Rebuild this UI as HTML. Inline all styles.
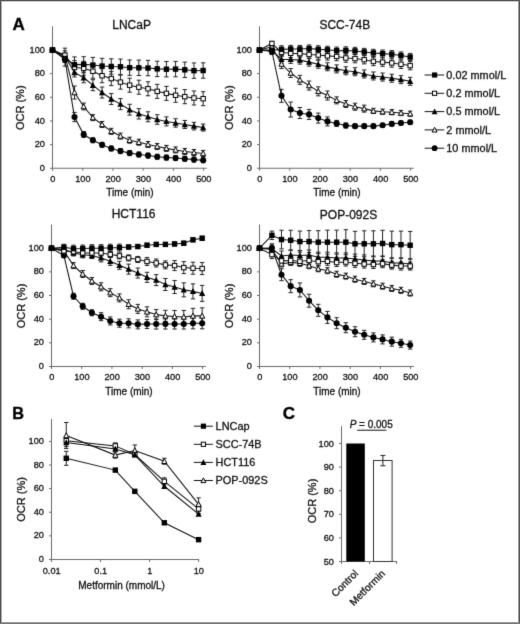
<!DOCTYPE html>
<html><head><meta charset="utf-8"><title>OCR figure</title>
<style>html,body{margin:0;padding:0;background:#fff;}body{width:520px;height:624px;overflow:hidden;}svg{display:block;-webkit-font-smoothing:antialiased;will-change:transform;font-family:"Liberation Sans", sans-serif;}</style></head>
<body>
<svg width="520" height="624" viewBox="0 0 520 624" font-family='"Liberation Sans", sans-serif' fill="#111" stroke-width="0">
<defs><filter id="bl" x="0" y="0" width="520" height="624" filterUnits="userSpaceOnUse" color-interpolation-filters="sRGB"><feConvolveMatrix order="3" kernelMatrix="0.01000 0.08000 0.01000 0.08000 0.64000 0.08000 0.01000 0.08000 0.01000" edgeMode="duplicate" preserveAlpha="false"/></filter></defs><rect width="520" height="624" fill="#fff"/>
<g filter="url(#bl)"><path d="M52.5 26.29V170.75" stroke="#6a6a6a" stroke-width="1"/>
<path d="M50 168.25H206.8" stroke="#6a6a6a" stroke-width="1"/>
<path d="M50 144.59H52.5M50 120.93H52.5M50 97.27H52.5M50 73.61H52.5M50 49.95H52.5M82.72 168.25V170.75M112.94 168.25V170.75M143.16 168.25V170.75M173.38 168.25V170.75M203.6 168.25V170.75" stroke="#6a6a6a" stroke-width="1"/>
<text x="44.9" y="170.85" font-size="9.2" text-anchor="end" font-weight="normal" stroke="#111" stroke-width="0.3">0</text>
<text x="44.9" y="147.19" font-size="9.2" text-anchor="end" font-weight="normal" stroke="#111" stroke-width="0.3">20</text>
<text x="44.9" y="123.53" font-size="9.2" text-anchor="end" font-weight="normal" stroke="#111" stroke-width="0.3">40</text>
<text x="44.9" y="99.87" font-size="9.2" text-anchor="end" font-weight="normal" stroke="#111" stroke-width="0.3">60</text>
<text x="44.9" y="76.21" font-size="9.2" text-anchor="end" font-weight="normal" stroke="#111" stroke-width="0.3">80</text>
<text x="44.9" y="52.55" font-size="9.2" text-anchor="end" font-weight="normal" stroke="#111" stroke-width="0.3">100</text>
<text x="52.7" y="181.95" font-size="9.2" text-anchor="middle" font-weight="normal" stroke="#111" stroke-width="0.3">0</text>
<text x="82.92" y="181.95" font-size="9.2" text-anchor="middle" font-weight="normal" stroke="#111" stroke-width="0.3">100</text>
<text x="113.14" y="181.95" font-size="9.2" text-anchor="middle" font-weight="normal" stroke="#111" stroke-width="0.3">200</text>
<text x="143.36" y="181.95" font-size="9.2" text-anchor="middle" font-weight="normal" stroke="#111" stroke-width="0.3">300</text>
<text x="173.58" y="181.95" font-size="9.2" text-anchor="middle" font-weight="normal" stroke="#111" stroke-width="0.3">400</text>
<text x="203.8" y="181.95" font-size="9.2" text-anchor="middle" font-weight="normal" stroke="#111" stroke-width="0.3">500</text>
<text x="130" y="196.25" font-size="10" text-anchor="middle" font-weight="normal" stroke="#111" stroke-width="0.3">Time (min)</text>
<text x="0" y="0" font-size="11" text-anchor="middle" font-weight="normal" stroke="#111" stroke-width="0.3" transform="translate(24.2 107.75) rotate(-90)">OCR (%)</text>
<text x="131.6" y="29.3" font-size="12" text-anchor="middle" font-weight="normal" stroke="#111" stroke-width="0.3">LNCaP</text>
<path d="M64.9 56.41V62.41M62.7 56.41H67.1M62.7 62.41H67.1" stroke="#222" stroke-width="1" fill="none"/><path d="M74.5 112.43V121.63M72.3 112.43H76.7M72.3 121.63H76.7" stroke="#222" stroke-width="1" fill="none"/><path d="M83.69 131.53V137.53M81.49 131.53H85.89M81.49 137.53H85.89" stroke="#222" stroke-width="1" fill="none"/><path d="M92.88 137.71V142.71M90.68 137.71H95.08M90.68 142.71H95.08" stroke="#222" stroke-width="1" fill="none"/><path d="M102.07 142.33V147.33M99.87 142.33H104.27M99.87 147.33H104.27" stroke="#222" stroke-width="1" fill="none"/><path d="M111.26 145.99V150.99M109.06 145.99H113.46M109.06 150.99H113.46" stroke="#222" stroke-width="1" fill="none"/><path d="M120.45 148.6V153.6M118.25 148.6H122.65M118.25 153.6H122.65" stroke="#222" stroke-width="1" fill="none"/><path d="M129.64 150.61V155.61M127.44 150.61H131.84M127.44 155.61H131.84" stroke="#222" stroke-width="1" fill="none"/><path d="M138.83 152.03V157.03M136.63 152.03H141.03M136.63 157.03H141.03" stroke="#222" stroke-width="1" fill="none"/><path d="M148.02 153.09V158.09M145.82 153.09H150.22M145.82 158.09H150.22" stroke="#222" stroke-width="1" fill="none"/><path d="M157.21 154.27V159.27M155.01 154.27H159.41M155.01 159.27H159.41" stroke="#222" stroke-width="1" fill="none"/><path d="M166.4 155.1V160.1M164.2 155.1H168.6M164.2 160.1H168.6" stroke="#222" stroke-width="1" fill="none"/><path d="M175.59 155.58V160.58M173.39 155.58H177.79M173.39 160.58H177.79" stroke="#222" stroke-width="1" fill="none"/><path d="M184.78 156.29V161.29M182.58 156.29H186.98M182.58 161.29H186.98" stroke="#222" stroke-width="1" fill="none"/><path d="M193.97 157.11V162.11M191.77 157.11H196.17M191.77 162.11H196.17" stroke="#222" stroke-width="1" fill="none"/><path d="M203.16 157.71V162.71M200.96 157.71H205.36M200.96 162.71H205.36" stroke="#222" stroke-width="1" fill="none"/><path d="M64.9 53.36V58.36M62.7 53.36H67.1M62.7 58.36H67.1" stroke="#222" stroke-width="1" fill="none"/><path d="M74.5 86.04V99.04M72.3 86.04H76.7M72.3 99.04H76.7" stroke="#222" stroke-width="1" fill="none"/><path d="M83.69 103.1V109.9M81.49 103.1H85.89M81.49 109.9H85.89" stroke="#222" stroke-width="1" fill="none"/><path d="M92.88 114.62V120.62M90.68 114.62H95.08M90.68 120.62H95.08" stroke="#222" stroke-width="1" fill="none"/><path d="M102.07 121.48V127.48M99.87 121.48H104.27M99.87 127.48H104.27" stroke="#222" stroke-width="1" fill="none"/><path d="M111.26 128.34V134.34M109.06 128.34H113.46M109.06 134.34H113.46" stroke="#222" stroke-width="1" fill="none"/><path d="M120.45 133.07V139.07M118.25 133.07H122.65M118.25 139.07H122.65" stroke="#222" stroke-width="1" fill="none"/><path d="M129.64 137.21V143.21M127.44 137.21H131.84M127.44 143.21H131.84" stroke="#222" stroke-width="1" fill="none"/><path d="M138.83 139.22V145.22M136.63 139.22H141.03M136.63 145.22H141.03" stroke="#222" stroke-width="1" fill="none"/><path d="M148.02 141.47V147.47M145.82 141.47H150.22M145.82 147.47H150.22" stroke="#222" stroke-width="1" fill="none"/><path d="M157.21 143.48V149.48M155.01 143.48H159.41M155.01 149.48H159.41" stroke="#222" stroke-width="1" fill="none"/><path d="M166.4 145.38V151.38M164.2 145.38H168.6M164.2 151.38H168.6" stroke="#222" stroke-width="1" fill="none"/><path d="M175.59 146.91V152.91M173.39 146.91H177.79M173.39 152.91H177.79" stroke="#222" stroke-width="1" fill="none"/><path d="M184.78 148.45V154.45M182.58 148.45H186.98M182.58 154.45H186.98" stroke="#222" stroke-width="1" fill="none"/><path d="M193.97 149.52V155.52M191.77 149.52H196.17M191.77 155.52H196.17" stroke="#222" stroke-width="1" fill="none"/><path d="M203.16 150.46V156.46M200.96 150.46H205.36M200.96 156.46H205.36" stroke="#222" stroke-width="1" fill="none"/><path d="M64.9 53.46V59.46M62.7 53.46H67.1M62.7 59.46H67.1" stroke="#222" stroke-width="1" fill="none"/><path d="M74.5 67.93V76.93M72.3 67.93H76.7M72.3 76.93H76.7" stroke="#222" stroke-width="1" fill="none"/><path d="M83.69 72.75V82.75M81.49 72.75H85.89M81.49 82.75H85.89" stroke="#222" stroke-width="1" fill="none"/><path d="M92.88 79.7V90.7M90.68 79.7H95.08M90.68 90.7H95.08" stroke="#222" stroke-width="1" fill="none"/><path d="M102.07 87.04V98.04M99.87 87.04H104.27M99.87 98.04H104.27" stroke="#222" stroke-width="1" fill="none"/><path d="M111.26 93.54V104.54M109.06 93.54H113.46M109.06 104.54H113.46" stroke="#222" stroke-width="1" fill="none"/><path d="M120.45 98.63V109.63M118.25 98.63H122.65M118.25 109.63H122.65" stroke="#222" stroke-width="1" fill="none"/><path d="M129.64 104.29V115.09M127.44 104.29H131.84M127.44 115.09H131.84" stroke="#222" stroke-width="1" fill="none"/><path d="M138.83 108.63V119.03M136.63 108.63H141.03M136.63 119.03H141.03" stroke="#222" stroke-width="1" fill="none"/><path d="M148.02 111.79V121.79M145.82 111.79H150.22M145.82 121.79H150.22" stroke="#222" stroke-width="1" fill="none"/><path d="M157.21 114.71V124.31M155.01 114.71H159.41M155.01 124.31H159.41" stroke="#222" stroke-width="1" fill="none"/><path d="M166.4 116.9V125.9M164.2 116.9H168.6M164.2 125.9H168.6" stroke="#222" stroke-width="1" fill="none"/><path d="M175.59 118.74V127.14M173.39 118.74H177.79M173.39 127.14H177.79" stroke="#222" stroke-width="1" fill="none"/><path d="M184.78 120.48V128.48M182.58 120.48H186.98M182.58 128.48H186.98" stroke="#222" stroke-width="1" fill="none"/><path d="M193.97 122.34V129.94M191.77 122.34H196.17M191.77 129.94H196.17" stroke="#222" stroke-width="1" fill="none"/><path d="M203.16 124.05V131.05M200.96 124.05H205.36M200.96 131.05H205.36" stroke="#222" stroke-width="1" fill="none"/><path d="M64.9 48.16V62.16M62.7 48.16H67.1M62.7 62.16H67.1" stroke="#222" stroke-width="1" fill="none"/><path d="M74.5 60.46V74.46M72.3 60.46H76.7M72.3 74.46H76.7" stroke="#222" stroke-width="1" fill="none"/><path d="M83.69 61.29V75.29M81.49 61.29H85.89M81.49 75.29H85.89" stroke="#222" stroke-width="1" fill="none"/><path d="M92.88 64.24V78.24M90.68 64.24H95.08M90.68 78.24H95.08" stroke="#222" stroke-width="1" fill="none"/><path d="M102.07 68.74V82.74M99.87 68.74H104.27M99.87 82.74H104.27" stroke="#222" stroke-width="1" fill="none"/><path d="M111.26 71.58V85.58M109.06 71.58H113.46M109.06 85.58H113.46" stroke="#222" stroke-width="1" fill="none"/><path d="M120.45 75.13V89.13M118.25 75.13H122.65M118.25 89.13H122.65" stroke="#222" stroke-width="1" fill="none"/><path d="M129.64 78.2V92.2M127.44 78.2H131.84M127.44 92.2H131.84" stroke="#222" stroke-width="1" fill="none"/><path d="M138.83 80.21V94.21M136.63 80.21H141.03M136.63 94.21H141.03" stroke="#222" stroke-width="1" fill="none"/><path d="M148.02 81.75V95.75M145.82 81.75H150.22M145.82 95.75H150.22" stroke="#222" stroke-width="1" fill="none"/><path d="M157.21 84.35V98.35M155.01 84.35H159.41M155.01 98.35H159.41" stroke="#222" stroke-width="1" fill="none"/><path d="M166.4 86.37V100.37M164.2 86.37H168.6M164.2 100.37H168.6" stroke="#222" stroke-width="1" fill="none"/><path d="M175.59 88.26V102.26M173.39 88.26H177.79M173.39 102.26H177.79" stroke="#222" stroke-width="1" fill="none"/><path d="M184.78 89.68V103.68M182.58 89.68H186.98M182.58 103.68H186.98" stroke="#222" stroke-width="1" fill="none"/><path d="M193.97 90.98V104.98M191.77 90.98H196.17M191.77 104.98H196.17" stroke="#222" stroke-width="1" fill="none"/><path d="M203.16 91.69V105.69M200.96 91.69H205.36M200.96 105.69H205.36" stroke="#222" stroke-width="1" fill="none"/><path d="M64.9 50.77V66.17M62.7 50.77H67.1M62.7 66.17H67.1" stroke="#222" stroke-width="1" fill="none"/><path d="M74.5 56.92V72.32M72.3 56.92H76.7M72.3 72.32H76.7" stroke="#222" stroke-width="1" fill="none"/><path d="M83.69 56.68V72.08M81.49 56.68H85.89M81.49 72.08H85.89" stroke="#222" stroke-width="1" fill="none"/><path d="M92.88 57.39V72.79M90.68 57.39H95.08M90.68 72.79H95.08" stroke="#222" stroke-width="1" fill="none"/><path d="M102.07 58.34V73.74M99.87 58.34H104.27M99.87 73.74H104.27" stroke="#222" stroke-width="1" fill="none"/><path d="M111.26 58.81V74.21M109.06 58.81H113.46M109.06 74.21H113.46" stroke="#222" stroke-width="1" fill="none"/><path d="M120.45 59.05V74.45M118.25 59.05H122.65M118.25 74.45H122.65" stroke="#222" stroke-width="1" fill="none"/><path d="M129.64 59.99V75.39M127.44 59.99H131.84M127.44 75.39H131.84" stroke="#222" stroke-width="1" fill="none"/><path d="M138.83 60.11V75.51M136.63 60.11H141.03M136.63 75.51H141.03" stroke="#222" stroke-width="1" fill="none"/><path d="M148.02 60.35V75.75M145.82 60.35H150.22M145.82 75.75H150.22" stroke="#222" stroke-width="1" fill="none"/><path d="M157.21 61.18V76.58M155.01 61.18H159.41M155.01 76.58H159.41" stroke="#222" stroke-width="1" fill="none"/><path d="M166.4 61.53V76.93M164.2 61.53H168.6M164.2 76.93H168.6" stroke="#222" stroke-width="1" fill="none"/><path d="M175.59 61.41V76.81M173.39 61.41H177.79M173.39 76.81H177.79" stroke="#222" stroke-width="1" fill="none"/><path d="M184.78 62.12V77.52M182.58 62.12H186.98M182.58 77.52H186.98" stroke="#222" stroke-width="1" fill="none"/><path d="M193.97 62.95V78.35M191.77 62.95H196.17M191.77 78.35H196.17" stroke="#222" stroke-width="1" fill="none"/><path d="M203.16 62.83V78.23M200.96 62.83H205.36M200.96 78.23H205.36" stroke="#222" stroke-width="1" fill="none"/>
<path d="M52.5 49.95L64.9 59.41L74.5 117.03L83.69 134.53L92.88 140.21L102.07 144.83L111.26 148.49L120.45 151.1L129.64 153.11L138.83 154.53L148.02 155.59L157.21 156.77L166.4 157.6L175.59 158.08L184.78 158.79L193.97 159.61L203.16 160.21" stroke="#111" stroke-width="1.05" fill="none"/><path d="M52.5 49.95L64.9 55.86L74.5 92.54L83.69 106.5L92.88 117.62L102.07 124.48L111.26 131.34L120.45 136.07L129.64 140.21L138.83 142.22L148.02 144.47L157.21 146.48L166.4 148.38L175.59 149.91L184.78 151.45L193.97 152.52L203.16 153.46" stroke="#111" stroke-width="1.05" fill="none"/><path d="M52.5 49.95L64.9 56.46L74.5 72.43L83.69 77.75L92.88 85.2L102.07 92.54L111.26 99.04L120.45 104.13L129.64 109.69L138.83 113.83L148.02 116.79L157.21 119.51L166.4 121.4L175.59 122.94L184.78 124.48L193.97 126.14L203.16 127.55" stroke="#111" stroke-width="1.05" fill="none"/><path d="M52.5 49.95L64.9 55.16L74.5 67.46L83.69 68.29L92.88 71.24L102.07 75.74L111.26 78.58L120.45 82.13L129.64 85.2L138.83 87.21L148.02 88.75L157.21 91.35L166.4 93.37L175.59 95.26L184.78 96.68L193.97 97.98L203.16 98.69" stroke="#111" stroke-width="1.05" fill="none"/><path d="M52.5 49.95L64.9 58.47L74.5 64.62L83.69 64.38L92.88 65.09L102.07 66.04L111.26 66.51L120.45 66.75L129.64 67.69L138.83 67.81L148.02 68.05L157.21 68.88L166.4 69.23L175.59 69.11L184.78 69.82L193.97 70.65L203.16 70.53" stroke="#111" stroke-width="1.05" fill="none"/>
<circle cx="52.5" cy="49.95" r="3.05" fill="#000"/><circle cx="64.9" cy="59.41" r="3.05" fill="#000"/><circle cx="74.5" cy="117.03" r="3.05" fill="#000"/><circle cx="83.69" cy="134.53" r="3.05" fill="#000"/><circle cx="92.88" cy="140.21" r="3.05" fill="#000"/><circle cx="102.07" cy="144.83" r="3.05" fill="#000"/><circle cx="111.26" cy="148.49" r="3.05" fill="#000"/><circle cx="120.45" cy="151.1" r="3.05" fill="#000"/><circle cx="129.64" cy="153.11" r="3.05" fill="#000"/><circle cx="138.83" cy="154.53" r="3.05" fill="#000"/><circle cx="148.02" cy="155.59" r="3.05" fill="#000"/><circle cx="157.21" cy="156.77" r="3.05" fill="#000"/><circle cx="166.4" cy="157.6" r="3.05" fill="#000"/><circle cx="175.59" cy="158.08" r="3.05" fill="#000"/><circle cx="184.78" cy="158.79" r="3.05" fill="#000"/><circle cx="193.97" cy="159.61" r="3.05" fill="#000"/><circle cx="203.16" cy="160.21" r="3.05" fill="#000"/><path d="M52.5 47.2L55.1 52.2L49.9 52.2Z" fill="#fff" stroke="#000" stroke-width="1"/><path d="M64.9 53.11L67.5 58.11L62.3 58.11Z" fill="#fff" stroke="#000" stroke-width="1"/><path d="M74.5 89.79L77.1 94.79L71.9 94.79Z" fill="#fff" stroke="#000" stroke-width="1"/><path d="M83.69 103.75L86.29 108.75L81.09 108.75Z" fill="#fff" stroke="#000" stroke-width="1"/><path d="M92.88 114.87L95.48 119.87L90.28 119.87Z" fill="#fff" stroke="#000" stroke-width="1"/><path d="M102.07 121.73L104.67 126.73L99.47 126.73Z" fill="#fff" stroke="#000" stroke-width="1"/><path d="M111.26 128.59L113.86 133.59L108.66 133.59Z" fill="#fff" stroke="#000" stroke-width="1"/><path d="M120.45 133.32L123.05 138.32L117.85 138.32Z" fill="#fff" stroke="#000" stroke-width="1"/><path d="M129.64 137.46L132.24 142.46L127.04 142.46Z" fill="#fff" stroke="#000" stroke-width="1"/><path d="M138.83 139.47L141.43 144.47L136.23 144.47Z" fill="#fff" stroke="#000" stroke-width="1"/><path d="M148.02 141.72L150.62 146.72L145.42 146.72Z" fill="#fff" stroke="#000" stroke-width="1"/><path d="M157.21 143.73L159.81 148.73L154.61 148.73Z" fill="#fff" stroke="#000" stroke-width="1"/><path d="M166.4 145.63L169 150.63L163.8 150.63Z" fill="#fff" stroke="#000" stroke-width="1"/><path d="M175.59 147.16L178.19 152.16L172.99 152.16Z" fill="#fff" stroke="#000" stroke-width="1"/><path d="M184.78 148.7L187.38 153.7L182.18 153.7Z" fill="#fff" stroke="#000" stroke-width="1"/><path d="M193.97 149.77L196.57 154.77L191.37 154.77Z" fill="#fff" stroke="#000" stroke-width="1"/><path d="M203.16 150.71L205.76 155.71L200.56 155.71Z" fill="#fff" stroke="#000" stroke-width="1"/><path d="M52.5 46.65L55.6 52.65L49.4 52.65Z" fill="#000"/><path d="M64.9 53.16L68 59.16L61.8 59.16Z" fill="#000"/><path d="M74.5 69.13L77.6 75.13L71.4 75.13Z" fill="#000"/><path d="M83.69 74.45L86.79 80.45L80.59 80.45Z" fill="#000"/><path d="M92.88 81.9L95.98 87.9L89.78 87.9Z" fill="#000"/><path d="M102.07 89.24L105.17 95.24L98.97 95.24Z" fill="#000"/><path d="M111.26 95.74L114.36 101.74L108.16 101.74Z" fill="#000"/><path d="M120.45 100.83L123.55 106.83L117.35 106.83Z" fill="#000"/><path d="M129.64 106.39L132.74 112.39L126.54 112.39Z" fill="#000"/><path d="M138.83 110.53L141.93 116.53L135.73 116.53Z" fill="#000"/><path d="M148.02 113.49L151.12 119.49L144.92 119.49Z" fill="#000"/><path d="M157.21 116.21L160.31 122.21L154.11 122.21Z" fill="#000"/><path d="M166.4 118.1L169.5 124.1L163.3 124.1Z" fill="#000"/><path d="M175.59 119.64L178.69 125.64L172.49 125.64Z" fill="#000"/><path d="M184.78 121.18L187.88 127.18L181.68 127.18Z" fill="#000"/><path d="M193.97 122.84L197.07 128.84L190.87 128.84Z" fill="#000"/><path d="M203.16 124.25L206.26 130.25L200.06 130.25Z" fill="#000"/><rect x="50.3" y="47.75" width="4.4" height="4.4" fill="#fff" stroke="#000" stroke-width="1"/><rect x="62.7" y="52.96" width="4.4" height="4.4" fill="#fff" stroke="#000" stroke-width="1"/><rect x="72.3" y="65.26" width="4.4" height="4.4" fill="#fff" stroke="#000" stroke-width="1"/><rect x="81.49" y="66.09" width="4.4" height="4.4" fill="#fff" stroke="#000" stroke-width="1"/><rect x="90.68" y="69.04" width="4.4" height="4.4" fill="#fff" stroke="#000" stroke-width="1"/><rect x="99.87" y="73.54" width="4.4" height="4.4" fill="#fff" stroke="#000" stroke-width="1"/><rect x="109.06" y="76.38" width="4.4" height="4.4" fill="#fff" stroke="#000" stroke-width="1"/><rect x="118.25" y="79.93" width="4.4" height="4.4" fill="#fff" stroke="#000" stroke-width="1"/><rect x="127.44" y="83" width="4.4" height="4.4" fill="#fff" stroke="#000" stroke-width="1"/><rect x="136.63" y="85.01" width="4.4" height="4.4" fill="#fff" stroke="#000" stroke-width="1"/><rect x="145.82" y="86.55" width="4.4" height="4.4" fill="#fff" stroke="#000" stroke-width="1"/><rect x="155.01" y="89.15" width="4.4" height="4.4" fill="#fff" stroke="#000" stroke-width="1"/><rect x="164.2" y="91.17" width="4.4" height="4.4" fill="#fff" stroke="#000" stroke-width="1"/><rect x="173.39" y="93.06" width="4.4" height="4.4" fill="#fff" stroke="#000" stroke-width="1"/><rect x="182.58" y="94.48" width="4.4" height="4.4" fill="#fff" stroke="#000" stroke-width="1"/><rect x="191.77" y="95.78" width="4.4" height="4.4" fill="#fff" stroke="#000" stroke-width="1"/><rect x="200.96" y="96.49" width="4.4" height="4.4" fill="#fff" stroke="#000" stroke-width="1"/><rect x="49.8" y="47.25" width="5.4" height="5.4" fill="#000"/><rect x="62.2" y="55.77" width="5.4" height="5.4" fill="#000"/><rect x="71.8" y="61.92" width="5.4" height="5.4" fill="#000"/><rect x="80.99" y="61.68" width="5.4" height="5.4" fill="#000"/><rect x="90.18" y="62.39" width="5.4" height="5.4" fill="#000"/><rect x="99.37" y="63.34" width="5.4" height="5.4" fill="#000"/><rect x="108.56" y="63.81" width="5.4" height="5.4" fill="#000"/><rect x="117.75" y="64.05" width="5.4" height="5.4" fill="#000"/><rect x="126.94" y="64.99" width="5.4" height="5.4" fill="#000"/><rect x="136.13" y="65.11" width="5.4" height="5.4" fill="#000"/><rect x="145.32" y="65.35" width="5.4" height="5.4" fill="#000"/><rect x="154.51" y="66.18" width="5.4" height="5.4" fill="#000"/><rect x="163.7" y="66.53" width="5.4" height="5.4" fill="#000"/><rect x="172.89" y="66.41" width="5.4" height="5.4" fill="#000"/><rect x="182.08" y="67.12" width="5.4" height="5.4" fill="#000"/><rect x="191.27" y="67.95" width="5.4" height="5.4" fill="#000"/><rect x="200.46" y="67.83" width="5.4" height="5.4" fill="#000"/>
<path d="M259.5 26.29V170.75" stroke="#6a6a6a" stroke-width="1"/>
<path d="M257 168.25H413.8" stroke="#6a6a6a" stroke-width="1"/>
<path d="M257 144.59H259.5M257 120.93H259.5M257 97.27H259.5M257 73.61H259.5M257 49.95H259.5M289.72 168.25V170.75M319.94 168.25V170.75M350.16 168.25V170.75M380.38 168.25V170.75M410.6 168.25V170.75" stroke="#6a6a6a" stroke-width="1"/>
<text x="251.9" y="170.85" font-size="9.2" text-anchor="end" font-weight="normal" stroke="#111" stroke-width="0.3">0</text>
<text x="251.9" y="147.19" font-size="9.2" text-anchor="end" font-weight="normal" stroke="#111" stroke-width="0.3">20</text>
<text x="251.9" y="123.53" font-size="9.2" text-anchor="end" font-weight="normal" stroke="#111" stroke-width="0.3">40</text>
<text x="251.9" y="99.87" font-size="9.2" text-anchor="end" font-weight="normal" stroke="#111" stroke-width="0.3">60</text>
<text x="251.9" y="76.21" font-size="9.2" text-anchor="end" font-weight="normal" stroke="#111" stroke-width="0.3">80</text>
<text x="251.9" y="52.55" font-size="9.2" text-anchor="end" font-weight="normal" stroke="#111" stroke-width="0.3">100</text>
<text x="259.7" y="181.95" font-size="9.2" text-anchor="middle" font-weight="normal" stroke="#111" stroke-width="0.3">0</text>
<text x="289.92" y="181.95" font-size="9.2" text-anchor="middle" font-weight="normal" stroke="#111" stroke-width="0.3">100</text>
<text x="320.14" y="181.95" font-size="9.2" text-anchor="middle" font-weight="normal" stroke="#111" stroke-width="0.3">200</text>
<text x="350.36" y="181.95" font-size="9.2" text-anchor="middle" font-weight="normal" stroke="#111" stroke-width="0.3">300</text>
<text x="380.58" y="181.95" font-size="9.2" text-anchor="middle" font-weight="normal" stroke="#111" stroke-width="0.3">400</text>
<text x="410.8" y="181.95" font-size="9.2" text-anchor="middle" font-weight="normal" stroke="#111" stroke-width="0.3">500</text>
<text x="337" y="196.25" font-size="10" text-anchor="middle" font-weight="normal" stroke="#111" stroke-width="0.3">Time (min)</text>
<text x="0" y="0" font-size="11" text-anchor="middle" font-weight="normal" stroke="#111" stroke-width="0.3" transform="translate(232.5 107.75) rotate(-90)">OCR (%)</text>
<text x="344.8" y="29.3" font-size="12" text-anchor="middle" font-weight="normal" stroke="#111" stroke-width="0.3">SCC-74B</text>
<path d="M271.9 48.37V54.37M269.7 48.37H274.1M269.7 54.37H274.1" stroke="#222" stroke-width="1" fill="none"/><path d="M281.5 89.35V102.35M279.3 89.35H283.7M279.3 102.35H283.7" stroke="#222" stroke-width="1" fill="none"/><path d="M290.69 102.07V117.07M288.49 102.07H292.89M288.49 117.07H292.89" stroke="#222" stroke-width="1" fill="none"/><path d="M299.88 107.5V118.5M297.68 107.5H302.08M297.68 118.5H302.08" stroke="#222" stroke-width="1" fill="none"/><path d="M309.07 109.42V119.42M306.87 109.42H311.27M306.87 119.42H311.27" stroke="#222" stroke-width="1" fill="none"/><path d="M318.26 113.09V123.09M316.06 113.09H320.46M316.06 123.09H320.46" stroke="#222" stroke-width="1" fill="none"/><path d="M327.45 116.9V125.9M325.25 116.9H329.65M325.25 125.9H329.65" stroke="#222" stroke-width="1" fill="none"/><path d="M336.64 120.41V126.41M334.44 120.41H338.84M334.44 126.41H338.84" stroke="#222" stroke-width="1" fill="none"/><path d="M345.83 123.04V128.04M343.63 123.04H348.03M343.63 128.04H348.03" stroke="#222" stroke-width="1" fill="none"/><path d="M355.02 124.14V128.14M352.82 124.14H357.22M352.82 128.14H357.22" stroke="#222" stroke-width="1" fill="none"/><path d="M364.21 124.14V128.14M362.01 124.14H366.41M362.01 128.14H366.41" stroke="#222" stroke-width="1" fill="none"/><path d="M373.4 124.14V128.14M371.2 124.14H375.6M371.2 128.14H375.6" stroke="#222" stroke-width="1" fill="none"/><path d="M382.59 123.31V127.31M380.39 123.31H384.79M380.39 127.31H384.79" stroke="#222" stroke-width="1" fill="none"/><path d="M391.78 121.89V125.89M389.58 121.89H393.98M389.58 125.89H393.98" stroke="#222" stroke-width="1" fill="none"/><path d="M400.97 120.94V124.94M398.77 120.94H403.17M398.77 124.94H403.17" stroke="#222" stroke-width="1" fill="none"/><path d="M410.16 120.23V124.23M407.96 120.23H412.36M407.96 124.23H412.36" stroke="#222" stroke-width="1" fill="none"/><path d="M271.9 44.76V48.76M269.7 44.76H274.1M269.7 48.76H274.1" stroke="#222" stroke-width="1" fill="none"/><path d="M281.5 59.53V68.53M279.3 59.53H283.7M279.3 68.53H283.7" stroke="#222" stroke-width="1" fill="none"/><path d="M290.69 68.52V77.52M288.49 68.52H292.89M288.49 77.52H292.89" stroke="#222" stroke-width="1" fill="none"/><path d="M299.88 75.38V84.38M297.68 75.38H302.08M297.68 84.38H302.08" stroke="#222" stroke-width="1" fill="none"/><path d="M309.07 81.06V90.06M306.87 81.06H311.27M306.87 90.06H311.27" stroke="#222" stroke-width="1" fill="none"/><path d="M318.26 86.85V95.85M316.06 86.85H320.46M316.06 95.85H320.46" stroke="#222" stroke-width="1" fill="none"/><path d="M327.45 91V100M325.25 91H329.65M325.25 100H329.65" stroke="#222" stroke-width="1" fill="none"/><path d="M336.64 96.85V103.85M334.44 96.85H338.84M334.44 103.85H338.84" stroke="#222" stroke-width="1" fill="none"/><path d="M345.83 100.51V107.51M343.63 100.51H348.03M343.63 107.51H348.03" stroke="#222" stroke-width="1" fill="none"/><path d="M355.02 103.23V110.23M352.82 103.23H357.22M352.82 110.23H357.22" stroke="#222" stroke-width="1" fill="none"/><path d="M364.21 105.13V112.13M362.01 105.13H366.41M362.01 112.13H366.41" stroke="#222" stroke-width="1" fill="none"/><path d="M373.4 108.27V113.47M371.2 108.27H375.6M371.2 113.47H375.6" stroke="#222" stroke-width="1" fill="none"/><path d="M382.59 109.1V114.3M380.39 109.1H384.79M380.39 114.3H384.79" stroke="#222" stroke-width="1" fill="none"/><path d="M391.78 109.58V114.78M389.58 109.58H393.98M389.58 114.78H393.98" stroke="#222" stroke-width="1" fill="none"/><path d="M400.97 110.4V115.6M398.77 110.4H403.17M398.77 115.6H403.17" stroke="#222" stroke-width="1" fill="none"/><path d="M410.16 111.11V116.31M407.96 111.11H412.36M407.96 116.31H412.36" stroke="#222" stroke-width="1" fill="none"/><path d="M271.9 46.54V54.54M269.7 46.54H274.1M269.7 54.54H274.1" stroke="#222" stroke-width="1" fill="none"/><path d="M281.5 55.41V63.41M279.3 55.41H283.7M279.3 63.41H283.7" stroke="#222" stroke-width="1" fill="none"/><path d="M290.69 55.41V63.41M288.49 55.41H292.89M288.49 63.41H292.89" stroke="#222" stroke-width="1" fill="none"/><path d="M299.88 56.12V64.12M297.68 56.12H302.08M297.68 64.12H302.08" stroke="#222" stroke-width="1" fill="none"/><path d="M309.07 58.13V66.13M306.87 58.13H311.27M306.87 66.13H311.27" stroke="#222" stroke-width="1" fill="none"/><path d="M318.26 60.26V68.26M316.06 60.26H320.46M316.06 68.26H320.46" stroke="#222" stroke-width="1" fill="none"/><path d="M327.45 62.75V70.75M325.25 62.75H329.65M325.25 70.75H329.65" stroke="#222" stroke-width="1" fill="none"/><path d="M336.64 64.88V72.88M334.44 64.88H338.84M334.44 72.88H338.84" stroke="#222" stroke-width="1" fill="none"/><path d="M345.83 66.77V74.77M343.63 66.77H348.03M343.63 74.77H348.03" stroke="#222" stroke-width="1" fill="none"/><path d="M355.02 67.72V75.72M352.82 67.72H357.22M352.82 75.72H357.22" stroke="#222" stroke-width="1" fill="none"/><path d="M364.21 69.96V77.96M362.01 69.96H366.41M362.01 77.96H366.41" stroke="#222" stroke-width="1" fill="none"/><path d="M373.4 71.98V79.98M371.2 71.98H375.6M371.2 79.98H375.6" stroke="#222" stroke-width="1" fill="none"/><path d="M382.59 73.04V81.04M380.39 73.04H384.79M380.39 81.04H384.79" stroke="#222" stroke-width="1" fill="none"/><path d="M391.78 74.22V82.22M389.58 74.22H393.98M389.58 82.22H393.98" stroke="#222" stroke-width="1" fill="none"/><path d="M400.97 75.64V83.64M398.77 75.64H403.17M398.77 83.64H403.17" stroke="#222" stroke-width="1" fill="none"/><path d="M410.16 77.3V85.3M407.96 77.3H412.36M407.96 85.3H412.36" stroke="#222" stroke-width="1" fill="none"/><path d="M271.9 41.44V45.44M269.7 41.44H274.1M269.7 45.44H274.1" stroke="#222" stroke-width="1" fill="none"/><path d="M281.5 48.23V56.63M279.3 48.23H283.7M279.3 56.63H283.7" stroke="#222" stroke-width="1" fill="none"/><path d="M290.69 49.06V57.46M288.49 49.06H292.89M288.49 57.46H292.89" stroke="#222" stroke-width="1" fill="none"/><path d="M299.88 49.42V57.82M297.68 49.42H302.08M297.68 57.82H302.08" stroke="#222" stroke-width="1" fill="none"/><path d="M309.07 50.25V58.65M306.87 50.25H311.27M306.87 58.65H311.27" stroke="#222" stroke-width="1" fill="none"/><path d="M318.26 50.84V59.24M316.06 50.84H320.46M316.06 59.24H320.46" stroke="#222" stroke-width="1" fill="none"/><path d="M327.45 51.66V60.06M325.25 51.66H329.65M325.25 60.06H329.65" stroke="#222" stroke-width="1" fill="none"/><path d="M336.64 52.26V60.66M334.44 52.26H338.84M334.44 60.66H338.84" stroke="#222" stroke-width="1" fill="none"/><path d="M345.83 53.79V62.19M343.63 53.79H348.03M343.63 62.19H348.03" stroke="#222" stroke-width="1" fill="none"/><path d="M355.02 54.39V62.79M352.82 54.39H357.22M352.82 62.79H357.22" stroke="#222" stroke-width="1" fill="none"/><path d="M364.21 55.45V63.85M362.01 55.45H366.41M362.01 63.85H366.41" stroke="#222" stroke-width="1" fill="none"/><path d="M373.4 57.23V65.63M371.2 57.23H375.6M371.2 65.63H375.6" stroke="#222" stroke-width="1" fill="none"/><path d="M382.59 57.93V66.33M380.39 57.93H384.79M380.39 66.33H384.79" stroke="#222" stroke-width="1" fill="none"/><path d="M391.78 58.76V67.16M389.58 58.76H393.98M389.58 67.16H393.98" stroke="#222" stroke-width="1" fill="none"/><path d="M400.97 60.06V68.46M398.77 60.06H403.17M398.77 68.46H403.17" stroke="#222" stroke-width="1" fill="none"/><path d="M410.16 61.37V69.77M407.96 61.37H412.36M407.96 69.77H412.36" stroke="#222" stroke-width="1" fill="none"/><path d="M271.9 46.7V53.9M269.7 46.7H274.1M269.7 53.9H274.1" stroke="#222" stroke-width="1" fill="none"/><path d="M281.5 45.76V52.96M279.3 45.76H283.7M279.3 52.96H283.7" stroke="#222" stroke-width="1" fill="none"/><path d="M290.69 45.4V52.6M288.49 45.4H292.89M288.49 52.6H292.89" stroke="#222" stroke-width="1" fill="none"/><path d="M299.88 45.4V52.6M297.68 45.4H302.08M297.68 52.6H302.08" stroke="#222" stroke-width="1" fill="none"/><path d="M309.07 44.93V52.13M306.87 44.93H311.27M306.87 52.13H311.27" stroke="#222" stroke-width="1" fill="none"/><path d="M318.26 45.76V52.96M316.06 45.76H320.46M316.06 52.96H320.46" stroke="#222" stroke-width="1" fill="none"/><path d="M327.45 46.23V53.43M325.25 46.23H329.65M325.25 53.43H329.65" stroke="#222" stroke-width="1" fill="none"/><path d="M336.64 47.06V54.26M334.44 47.06H338.84M334.44 54.26H338.84" stroke="#222" stroke-width="1" fill="none"/><path d="M345.83 46.82V54.02M343.63 46.82H348.03M343.63 54.02H348.03" stroke="#222" stroke-width="1" fill="none"/><path d="M355.02 47.3V54.5M352.82 47.3H357.22M352.82 54.5H357.22" stroke="#222" stroke-width="1" fill="none"/><path d="M364.21 48.36V55.56M362.01 48.36H366.41M362.01 55.56H366.41" stroke="#222" stroke-width="1" fill="none"/><path d="M373.4 49.31V56.51M371.2 49.31H375.6M371.2 56.51H375.6" stroke="#222" stroke-width="1" fill="none"/><path d="M382.59 50.02V57.22M380.39 50.02H384.79M380.39 57.22H384.79" stroke="#222" stroke-width="1" fill="none"/><path d="M391.78 50.61V57.81M389.58 50.61H393.98M389.58 57.81H393.98" stroke="#222" stroke-width="1" fill="none"/><path d="M400.97 51.91V59.11M398.77 51.91H403.17M398.77 59.11H403.17" stroke="#222" stroke-width="1" fill="none"/><path d="M410.16 53.45V60.65M407.96 53.45H412.36M407.96 60.65H412.36" stroke="#222" stroke-width="1" fill="none"/>
<path d="M259.5 49.95L271.9 51.37L281.5 95.85L290.69 109.57L299.88 113L309.07 114.42L318.26 118.09L327.45 121.4L336.64 123.41L345.83 125.54L355.02 126.14L364.21 126.14L373.4 126.14L382.59 125.31L391.78 123.89L400.97 122.94L410.16 122.23" stroke="#111" stroke-width="1.05" fill="none"/><path d="M259.5 49.95L271.9 46.76L281.5 64.03L290.69 73.02L299.88 79.88L309.07 85.56L318.26 91.35L327.45 95.5L336.64 100.35L345.83 104.01L355.02 106.73L364.21 108.63L373.4 110.87L382.59 111.7L391.78 112.18L400.97 113L410.16 113.71" stroke="#111" stroke-width="1.05" fill="none"/><path d="M259.5 49.95L271.9 50.54L281.5 59.41L290.69 59.41L299.88 60.12L309.07 62.13L318.26 64.26L327.45 66.75L336.64 68.88L345.83 70.77L355.02 71.72L364.21 73.96L373.4 75.98L382.59 77.04L391.78 78.22L400.97 79.64L410.16 81.3" stroke="#111" stroke-width="1.05" fill="none"/><path d="M259.5 49.95L271.9 43.44L281.5 52.43L290.69 53.26L299.88 53.62L309.07 54.45L318.26 55.04L327.45 55.86L336.64 56.46L345.83 57.99L355.02 58.59L364.21 59.65L373.4 61.43L382.59 62.13L391.78 62.96L400.97 64.26L410.16 65.57" stroke="#111" stroke-width="1.05" fill="none"/><path d="M259.5 49.95L271.9 50.3L281.5 49.36L290.69 49L299.88 49L309.07 48.53L318.26 49.36L327.45 49.83L336.64 50.66L345.83 50.42L355.02 50.9L364.21 51.96L373.4 52.91L382.59 53.62L391.78 54.21L400.97 55.51L410.16 57.05" stroke="#111" stroke-width="1.05" fill="none"/>
<circle cx="259.5" cy="49.95" r="3.05" fill="#000"/><circle cx="271.9" cy="51.37" r="3.05" fill="#000"/><circle cx="281.5" cy="95.85" r="3.05" fill="#000"/><circle cx="290.69" cy="109.57" r="3.05" fill="#000"/><circle cx="299.88" cy="113" r="3.05" fill="#000"/><circle cx="309.07" cy="114.42" r="3.05" fill="#000"/><circle cx="318.26" cy="118.09" r="3.05" fill="#000"/><circle cx="327.45" cy="121.4" r="3.05" fill="#000"/><circle cx="336.64" cy="123.41" r="3.05" fill="#000"/><circle cx="345.83" cy="125.54" r="3.05" fill="#000"/><circle cx="355.02" cy="126.14" r="3.05" fill="#000"/><circle cx="364.21" cy="126.14" r="3.05" fill="#000"/><circle cx="373.4" cy="126.14" r="3.05" fill="#000"/><circle cx="382.59" cy="125.31" r="3.05" fill="#000"/><circle cx="391.78" cy="123.89" r="3.05" fill="#000"/><circle cx="400.97" cy="122.94" r="3.05" fill="#000"/><circle cx="410.16" cy="122.23" r="3.05" fill="#000"/><path d="M259.5 47.2L262.1 52.2L256.9 52.2Z" fill="#fff" stroke="#000" stroke-width="1"/><path d="M271.9 44.01L274.5 49.01L269.3 49.01Z" fill="#fff" stroke="#000" stroke-width="1"/><path d="M281.5 61.28L284.1 66.28L278.9 66.28Z" fill="#fff" stroke="#000" stroke-width="1"/><path d="M290.69 70.27L293.29 75.27L288.09 75.27Z" fill="#fff" stroke="#000" stroke-width="1"/><path d="M299.88 77.13L302.48 82.13L297.28 82.13Z" fill="#fff" stroke="#000" stroke-width="1"/><path d="M309.07 82.81L311.67 87.81L306.47 87.81Z" fill="#fff" stroke="#000" stroke-width="1"/><path d="M318.26 88.6L320.86 93.6L315.66 93.6Z" fill="#fff" stroke="#000" stroke-width="1"/><path d="M327.45 92.75L330.05 97.75L324.85 97.75Z" fill="#fff" stroke="#000" stroke-width="1"/><path d="M336.64 97.6L339.24 102.6L334.04 102.6Z" fill="#fff" stroke="#000" stroke-width="1"/><path d="M345.83 101.26L348.43 106.26L343.23 106.26Z" fill="#fff" stroke="#000" stroke-width="1"/><path d="M355.02 103.98L357.62 108.98L352.42 108.98Z" fill="#fff" stroke="#000" stroke-width="1"/><path d="M364.21 105.88L366.81 110.88L361.61 110.88Z" fill="#fff" stroke="#000" stroke-width="1"/><path d="M373.4 108.12L376 113.12L370.8 113.12Z" fill="#fff" stroke="#000" stroke-width="1"/><path d="M382.59 108.95L385.19 113.95L379.99 113.95Z" fill="#fff" stroke="#000" stroke-width="1"/><path d="M391.78 109.43L394.38 114.43L389.18 114.43Z" fill="#fff" stroke="#000" stroke-width="1"/><path d="M400.97 110.25L403.57 115.25L398.37 115.25Z" fill="#fff" stroke="#000" stroke-width="1"/><path d="M410.16 110.96L412.76 115.96L407.56 115.96Z" fill="#fff" stroke="#000" stroke-width="1"/><path d="M259.5 46.65L262.6 52.65L256.4 52.65Z" fill="#000"/><path d="M271.9 47.24L275 53.24L268.8 53.24Z" fill="#000"/><path d="M281.5 56.11L284.6 62.11L278.4 62.11Z" fill="#000"/><path d="M290.69 56.11L293.79 62.11L287.59 62.11Z" fill="#000"/><path d="M299.88 56.82L302.98 62.82L296.78 62.82Z" fill="#000"/><path d="M309.07 58.83L312.17 64.83L305.97 64.83Z" fill="#000"/><path d="M318.26 60.96L321.36 66.96L315.16 66.96Z" fill="#000"/><path d="M327.45 63.45L330.55 69.45L324.35 69.45Z" fill="#000"/><path d="M336.64 65.58L339.74 71.58L333.54 71.58Z" fill="#000"/><path d="M345.83 67.47L348.93 73.47L342.73 73.47Z" fill="#000"/><path d="M355.02 68.42L358.12 74.42L351.92 74.42Z" fill="#000"/><path d="M364.21 70.66L367.31 76.66L361.11 76.66Z" fill="#000"/><path d="M373.4 72.68L376.5 78.68L370.3 78.68Z" fill="#000"/><path d="M382.59 73.74L385.69 79.74L379.49 79.74Z" fill="#000"/><path d="M391.78 74.92L394.88 80.92L388.68 80.92Z" fill="#000"/><path d="M400.97 76.34L404.07 82.34L397.87 82.34Z" fill="#000"/><path d="M410.16 78L413.26 84L407.06 84Z" fill="#000"/><rect x="257.3" y="47.75" width="4.4" height="4.4" fill="#fff" stroke="#000" stroke-width="1"/><rect x="269.7" y="41.24" width="4.4" height="4.4" fill="#fff" stroke="#000" stroke-width="1"/><rect x="279.3" y="50.23" width="4.4" height="4.4" fill="#fff" stroke="#000" stroke-width="1"/><rect x="288.49" y="51.06" width="4.4" height="4.4" fill="#fff" stroke="#000" stroke-width="1"/><rect x="297.68" y="51.42" width="4.4" height="4.4" fill="#fff" stroke="#000" stroke-width="1"/><rect x="306.87" y="52.25" width="4.4" height="4.4" fill="#fff" stroke="#000" stroke-width="1"/><rect x="316.06" y="52.84" width="4.4" height="4.4" fill="#fff" stroke="#000" stroke-width="1"/><rect x="325.25" y="53.66" width="4.4" height="4.4" fill="#fff" stroke="#000" stroke-width="1"/><rect x="334.44" y="54.26" width="4.4" height="4.4" fill="#fff" stroke="#000" stroke-width="1"/><rect x="343.63" y="55.79" width="4.4" height="4.4" fill="#fff" stroke="#000" stroke-width="1"/><rect x="352.82" y="56.39" width="4.4" height="4.4" fill="#fff" stroke="#000" stroke-width="1"/><rect x="362.01" y="57.45" width="4.4" height="4.4" fill="#fff" stroke="#000" stroke-width="1"/><rect x="371.2" y="59.23" width="4.4" height="4.4" fill="#fff" stroke="#000" stroke-width="1"/><rect x="380.39" y="59.93" width="4.4" height="4.4" fill="#fff" stroke="#000" stroke-width="1"/><rect x="389.58" y="60.76" width="4.4" height="4.4" fill="#fff" stroke="#000" stroke-width="1"/><rect x="398.77" y="62.06" width="4.4" height="4.4" fill="#fff" stroke="#000" stroke-width="1"/><rect x="407.96" y="63.37" width="4.4" height="4.4" fill="#fff" stroke="#000" stroke-width="1"/><rect x="256.8" y="47.25" width="5.4" height="5.4" fill="#000"/><rect x="269.2" y="47.6" width="5.4" height="5.4" fill="#000"/><rect x="278.8" y="46.66" width="5.4" height="5.4" fill="#000"/><rect x="287.99" y="46.3" width="5.4" height="5.4" fill="#000"/><rect x="297.18" y="46.3" width="5.4" height="5.4" fill="#000"/><rect x="306.37" y="45.83" width="5.4" height="5.4" fill="#000"/><rect x="315.56" y="46.66" width="5.4" height="5.4" fill="#000"/><rect x="324.75" y="47.13" width="5.4" height="5.4" fill="#000"/><rect x="333.94" y="47.96" width="5.4" height="5.4" fill="#000"/><rect x="343.13" y="47.72" width="5.4" height="5.4" fill="#000"/><rect x="352.32" y="48.2" width="5.4" height="5.4" fill="#000"/><rect x="361.51" y="49.26" width="5.4" height="5.4" fill="#000"/><rect x="370.7" y="50.21" width="5.4" height="5.4" fill="#000"/><rect x="379.89" y="50.92" width="5.4" height="5.4" fill="#000"/><rect x="389.08" y="51.51" width="5.4" height="5.4" fill="#000"/><rect x="398.27" y="52.81" width="5.4" height="5.4" fill="#000"/><rect x="407.46" y="54.35" width="5.4" height="5.4" fill="#000"/>
<path d="M51.5 224.54V369" stroke="#6a6a6a" stroke-width="1"/>
<path d="M49 366.5H205.8" stroke="#6a6a6a" stroke-width="1"/>
<path d="M49 342.84H51.5M49 319.18H51.5M49 295.52H51.5M49 271.86H51.5M49 248.2H51.5M81.72 366.5V369M111.94 366.5V369M142.16 366.5V369M172.38 366.5V369M202.6 366.5V369" stroke="#6a6a6a" stroke-width="1"/>
<text x="43.9" y="369.1" font-size="9.2" text-anchor="end" font-weight="normal" stroke="#111" stroke-width="0.3">0</text>
<text x="43.9" y="345.44" font-size="9.2" text-anchor="end" font-weight="normal" stroke="#111" stroke-width="0.3">20</text>
<text x="43.9" y="321.78" font-size="9.2" text-anchor="end" font-weight="normal" stroke="#111" stroke-width="0.3">40</text>
<text x="43.9" y="298.12" font-size="9.2" text-anchor="end" font-weight="normal" stroke="#111" stroke-width="0.3">60</text>
<text x="43.9" y="274.46" font-size="9.2" text-anchor="end" font-weight="normal" stroke="#111" stroke-width="0.3">80</text>
<text x="43.9" y="250.8" font-size="9.2" text-anchor="end" font-weight="normal" stroke="#111" stroke-width="0.3">100</text>
<text x="51.7" y="380.2" font-size="9.2" text-anchor="middle" font-weight="normal" stroke="#111" stroke-width="0.3">0</text>
<text x="81.92" y="380.2" font-size="9.2" text-anchor="middle" font-weight="normal" stroke="#111" stroke-width="0.3">100</text>
<text x="112.14" y="380.2" font-size="9.2" text-anchor="middle" font-weight="normal" stroke="#111" stroke-width="0.3">200</text>
<text x="142.36" y="380.2" font-size="9.2" text-anchor="middle" font-weight="normal" stroke="#111" stroke-width="0.3">300</text>
<text x="172.58" y="380.2" font-size="9.2" text-anchor="middle" font-weight="normal" stroke="#111" stroke-width="0.3">400</text>
<text x="202.8" y="380.2" font-size="9.2" text-anchor="middle" font-weight="normal" stroke="#111" stroke-width="0.3">500</text>
<text x="129" y="394.5" font-size="10" text-anchor="middle" font-weight="normal" stroke="#111" stroke-width="0.3">Time (min)</text>
<text x="0" y="0" font-size="11" text-anchor="middle" font-weight="normal" stroke="#111" stroke-width="0.3" transform="translate(24.9 306) rotate(-90)">OCR (%)</text>
<text x="133.6" y="218.3" font-size="12" text-anchor="middle" font-weight="normal" stroke="#111" stroke-width="0.3">HCT116</text>
<path d="M63.9 253.53V257.53M61.7 253.53H66.1M61.7 257.53H66.1" stroke="#222" stroke-width="1" fill="none"/><path d="M73.5 293.23V299.23M71.3 293.23H75.7M71.3 299.23H75.7" stroke="#222" stroke-width="1" fill="none"/><path d="M82.69 303.29V309.29M80.49 303.29H84.89M80.49 309.29H84.89" stroke="#222" stroke-width="1" fill="none"/><path d="M91.88 309.79V315.79M89.68 309.79H94.08M89.68 315.79H94.08" stroke="#222" stroke-width="1" fill="none"/><path d="M101.07 312.7V320.7M98.87 312.7H103.27M98.87 320.7H103.27" stroke="#222" stroke-width="1" fill="none"/><path d="M110.26 316.95V324.95M108.06 316.95H112.46M108.06 324.95H112.46" stroke="#222" stroke-width="1" fill="none"/><path d="M119.45 319.2V327.2M117.25 319.2H121.65M117.25 327.2H121.65" stroke="#222" stroke-width="1" fill="none"/><path d="M128.64 318.82V327.82M126.44 318.82H130.84M126.44 327.82H130.84" stroke="#222" stroke-width="1" fill="none"/><path d="M137.83 319.89V328.89M135.63 319.89H140.03M135.63 328.89H140.03" stroke="#222" stroke-width="1" fill="none"/><path d="M147.02 319.53V328.53M144.82 319.53H149.22M144.82 328.53H149.22" stroke="#222" stroke-width="1" fill="none"/><path d="M156.21 319.03V329.03M154.01 319.03H158.41M154.01 329.03H158.41" stroke="#222" stroke-width="1" fill="none"/><path d="M165.4 319.03V329.03M163.2 319.03H167.6M163.2 329.03H167.6" stroke="#222" stroke-width="1" fill="none"/><path d="M174.59 319.03V329.03M172.39 319.03H176.79M172.39 329.03H176.79" stroke="#222" stroke-width="1" fill="none"/><path d="M183.78 319.03V329.03M181.58 319.03H185.98M181.58 329.03H185.98" stroke="#222" stroke-width="1" fill="none"/><path d="M192.97 317.82V328.82M190.77 317.82H195.17M190.77 328.82H195.17" stroke="#222" stroke-width="1" fill="none"/><path d="M202.16 317.82V328.82M199.96 317.82H204.36M199.96 328.82H204.36" stroke="#222" stroke-width="1" fill="none"/><path d="M63.9 248.92V252.92M61.7 248.92H66.1M61.7 252.92H66.1" stroke="#222" stroke-width="1" fill="none"/><path d="M73.5 262.59V268.59M71.3 262.59H75.7M71.3 268.59H75.7" stroke="#222" stroke-width="1" fill="none"/><path d="M82.69 270.49V277.49M80.49 270.49H84.89M80.49 277.49H84.89" stroke="#222" stroke-width="1" fill="none"/><path d="M91.88 277.47V284.47M89.68 277.47H94.08M89.68 284.47H94.08" stroke="#222" stroke-width="1" fill="none"/><path d="M101.07 282.77V290.77M98.87 282.77H103.27M98.87 290.77H103.27" stroke="#222" stroke-width="1" fill="none"/><path d="M110.26 288.68V296.68M108.06 288.68H112.46M108.06 296.68H112.46" stroke="#222" stroke-width="1" fill="none"/><path d="M119.45 293.89V301.89M117.25 293.89H121.65M117.25 301.89H121.65" stroke="#222" stroke-width="1" fill="none"/><path d="M128.64 299.77V308.77M126.44 299.77H130.84M126.44 308.77H130.84" stroke="#222" stroke-width="1" fill="none"/><path d="M137.83 304.39V313.39M135.63 304.39H140.03M135.63 313.39H140.03" stroke="#222" stroke-width="1" fill="none"/><path d="M147.02 306.85V316.85M144.82 306.85H149.22M144.82 316.85H149.22" stroke="#222" stroke-width="1" fill="none"/><path d="M156.21 309.57V319.57M154.01 309.57H158.41M154.01 319.57H158.41" stroke="#222" stroke-width="1" fill="none"/><path d="M165.4 310.37V321.37M163.2 310.37H167.6M163.2 321.37H167.6" stroke="#222" stroke-width="1" fill="none"/><path d="M174.59 310.46V322.46M172.39 310.46H176.79M172.39 322.46H176.79" stroke="#222" stroke-width="1" fill="none"/><path d="M183.78 310.43V323.43M181.58 310.43H185.98M181.58 323.43H185.98" stroke="#222" stroke-width="1" fill="none"/><path d="M192.97 308.37V323.37M190.77 308.37H195.17M190.77 323.37H195.17" stroke="#222" stroke-width="1" fill="none"/><path d="M202.16 307.87V323.87M199.96 307.87H204.36M199.96 323.87H204.36" stroke="#222" stroke-width="1" fill="none"/><path d="M63.9 247.38V251.38M61.7 247.38H66.1M61.7 251.38H66.1" stroke="#222" stroke-width="1" fill="none"/><path d="M73.5 249.93V255.93M71.3 249.93H75.7M71.3 255.93H75.7" stroke="#222" stroke-width="1" fill="none"/><path d="M82.69 251.82V257.82M80.49 251.82H84.89M80.49 257.82H84.89" stroke="#222" stroke-width="1" fill="none"/><path d="M91.88 252.53V258.53M89.68 252.53H94.08M89.68 258.53H94.08" stroke="#222" stroke-width="1" fill="none"/><path d="M101.07 253.9V261.9M98.87 253.9H103.27M98.87 261.9H103.27" stroke="#222" stroke-width="1" fill="none"/><path d="M110.26 257.33V265.33M108.06 257.33H112.46M108.06 265.33H112.46" stroke="#222" stroke-width="1" fill="none"/><path d="M119.45 261.35V269.35M117.25 261.35H121.65M117.25 269.35H121.65" stroke="#222" stroke-width="1" fill="none"/><path d="M128.64 264.14V274.14M126.44 264.14H130.84M126.44 274.14H130.84" stroke="#222" stroke-width="1" fill="none"/><path d="M137.83 268.04V278.04M135.63 268.04H140.03M135.63 278.04H140.03" stroke="#222" stroke-width="1" fill="none"/><path d="M147.02 272.3V282.3M144.82 272.3H149.22M144.82 282.3H149.22" stroke="#222" stroke-width="1" fill="none"/><path d="M156.21 274.64V285.64M154.01 274.64H158.41M154.01 285.64H158.41" stroke="#222" stroke-width="1" fill="none"/><path d="M165.4 278.52V290.52M163.2 278.52H167.6M163.2 290.52H167.6" stroke="#222" stroke-width="1" fill="none"/><path d="M174.59 280.5V293.5M172.39 280.5H176.79M172.39 293.5H176.79" stroke="#222" stroke-width="1" fill="none"/><path d="M183.78 282.84V296.84M181.58 282.84H185.98M181.58 296.84H185.98" stroke="#222" stroke-width="1" fill="none"/><path d="M192.97 283.88V298.88M190.77 283.88H195.17M190.77 298.88H195.17" stroke="#222" stroke-width="1" fill="none"/><path d="M202.16 285.39V301.39M199.96 285.39H204.36M199.96 301.39H204.36" stroke="#222" stroke-width="1" fill="none"/><path d="M63.9 248.92V252.92M61.7 248.92H66.1M61.7 252.92H66.1" stroke="#222" stroke-width="1" fill="none"/><path d="M73.5 249.75V253.75M71.3 249.75H75.7M71.3 253.75H75.7" stroke="#222" stroke-width="1" fill="none"/><path d="M82.69 250.93V254.93M80.49 250.93H84.89M80.49 254.93H84.89" stroke="#222" stroke-width="1" fill="none"/><path d="M91.88 250.93V254.93M89.68 250.93H94.08M89.68 254.93H94.08" stroke="#222" stroke-width="1" fill="none"/><path d="M101.07 249.93V255.93M98.87 249.93H103.27M98.87 255.93H103.27" stroke="#222" stroke-width="1" fill="none"/><path d="M110.26 251.47V257.47M108.06 251.47H112.46M108.06 257.47H112.46" stroke="#222" stroke-width="1" fill="none"/><path d="M119.45 252.89V258.89M117.25 252.89H121.65M117.25 258.89H121.65" stroke="#222" stroke-width="1" fill="none"/><path d="M128.64 254.9V260.9M126.44 254.9H130.84M126.44 260.9H130.84" stroke="#222" stroke-width="1" fill="none"/><path d="M137.83 256.44V262.44M135.63 256.44H140.03M135.63 262.44H140.03" stroke="#222" stroke-width="1" fill="none"/><path d="M147.02 257.45V265.45M144.82 257.45H149.22M144.82 265.45H149.22" stroke="#222" stroke-width="1" fill="none"/><path d="M156.21 258.99V266.99M154.01 258.99H158.41M154.01 266.99H158.41" stroke="#222" stroke-width="1" fill="none"/><path d="M165.4 260.88V268.88M163.2 260.88H167.6M163.2 268.88H167.6" stroke="#222" stroke-width="1" fill="none"/><path d="M174.59 260.59V270.59M172.39 260.59H176.79M172.39 270.59H176.79" stroke="#222" stroke-width="1" fill="none"/><path d="M183.78 261.6V273.6M181.58 261.6H185.98M181.58 273.6H185.98" stroke="#222" stroke-width="1" fill="none"/><path d="M192.97 262.19V274.19M190.77 262.19H195.17M190.77 274.19H195.17" stroke="#222" stroke-width="1" fill="none"/><path d="M202.16 262.55V274.55M199.96 262.55H204.36M199.96 274.55H204.36" stroke="#222" stroke-width="1" fill="none"/><path d="M63.9 244.25V250.25M61.7 244.25H66.1M61.7 250.25H66.1" stroke="#222" stroke-width="1" fill="none"/><path d="M73.5 245.17V252.17M71.3 245.17H75.7M71.3 252.17H75.7" stroke="#222" stroke-width="1" fill="none"/><path d="M82.69 245.05V252.05M80.49 245.05H84.89M80.49 252.05H84.89" stroke="#222" stroke-width="1" fill="none"/><path d="M91.88 244.7V251.7M89.68 244.7H94.08M89.68 251.7H94.08" stroke="#222" stroke-width="1" fill="none"/><path d="M101.07 244.7V251.7M98.87 244.7H103.27M98.87 251.7H103.27" stroke="#222" stroke-width="1" fill="none"/><path d="M110.26 244.23V251.23M108.06 244.23H112.46M108.06 251.23H112.46" stroke="#222" stroke-width="1" fill="none"/><path d="M119.45 244.11V251.11M117.25 244.11H121.65M117.25 251.11H121.65" stroke="#222" stroke-width="1" fill="none"/><path d="M128.64 245.02V249.02M126.44 245.02H130.84M126.44 249.02H130.84" stroke="#222" stroke-width="1" fill="none"/><path d="M137.83 244.54V248.54M135.63 244.54H140.03M135.63 248.54H140.03" stroke="#222" stroke-width="1" fill="none"/><path d="M147.02 243.24V247.24M144.82 243.24H149.22M144.82 247.24H149.22" stroke="#222" stroke-width="1" fill="none"/><path d="M156.21 242.41V246.41M154.01 242.41H158.41M154.01 246.41H158.41" stroke="#222" stroke-width="1" fill="none"/><path d="M165.4 242.41V246.41M163.2 242.41H167.6M163.2 246.41H167.6" stroke="#222" stroke-width="1" fill="none"/><path d="M174.59 241.94V245.94M172.39 241.94H176.79M172.39 245.94H176.79" stroke="#222" stroke-width="1" fill="none"/><path d="M183.78 241.23V245.23M181.58 241.23H185.98M181.58 245.23H185.98" stroke="#222" stroke-width="1" fill="none"/><path d="M192.97 237.8V241.8M190.77 237.8H195.17M190.77 241.8H195.17" stroke="#222" stroke-width="1" fill="none"/><path d="M202.16 236.26V240.26M199.96 236.26H204.36M199.96 240.26H204.36" stroke="#222" stroke-width="1" fill="none"/>
<path d="M51.5 248.2L63.9 255.53L73.5 296.23L82.69 306.29L91.88 312.79L101.07 316.7L110.26 320.95L119.45 323.2L128.64 323.32L137.83 324.39L147.02 324.03L156.21 324.03L165.4 324.03L174.59 324.03L183.78 324.03L192.97 323.32L202.16 323.32" stroke="#111" stroke-width="1.05" fill="none"/><path d="M51.5 248.2L63.9 250.92L73.5 265.59L82.69 273.99L91.88 280.97L101.07 286.77L110.26 292.68L119.45 297.89L128.64 304.27L137.83 308.89L147.02 311.85L156.21 314.57L165.4 315.87L174.59 316.46L183.78 316.93L192.97 315.87L202.16 315.87" stroke="#111" stroke-width="1.05" fill="none"/><path d="M51.5 248.2L63.9 249.38L73.5 252.93L82.69 254.82L91.88 255.53L101.07 257.9L110.26 261.33L119.45 265.35L128.64 269.14L137.83 273.04L147.02 277.3L156.21 280.14L165.4 284.52L174.59 287L183.78 289.84L192.97 291.38L202.16 293.39" stroke="#111" stroke-width="1.05" fill="none"/><path d="M51.5 248.2L63.9 250.92L73.5 251.75L82.69 252.93L91.88 252.93L101.07 252.93L110.26 254.47L119.45 255.89L128.64 257.9L137.83 259.44L147.02 261.45L156.21 262.99L165.4 264.88L174.59 265.59L183.78 267.6L192.97 268.19L202.16 268.55" stroke="#111" stroke-width="1.05" fill="none"/><path d="M51.5 248.2L63.9 247.25L73.5 248.67L82.69 248.55L91.88 248.2L101.07 248.2L110.26 247.73L119.45 247.61L128.64 247.02L137.83 246.54L147.02 245.24L156.21 244.41L165.4 244.41L174.59 243.94L183.78 243.23L192.97 239.8L202.16 238.26" stroke="#111" stroke-width="1.05" fill="none"/>
<circle cx="51.5" cy="248.2" r="3.05" fill="#000"/><circle cx="63.9" cy="255.53" r="3.05" fill="#000"/><circle cx="73.5" cy="296.23" r="3.05" fill="#000"/><circle cx="82.69" cy="306.29" r="3.05" fill="#000"/><circle cx="91.88" cy="312.79" r="3.05" fill="#000"/><circle cx="101.07" cy="316.7" r="3.05" fill="#000"/><circle cx="110.26" cy="320.95" r="3.05" fill="#000"/><circle cx="119.45" cy="323.2" r="3.05" fill="#000"/><circle cx="128.64" cy="323.32" r="3.05" fill="#000"/><circle cx="137.83" cy="324.39" r="3.05" fill="#000"/><circle cx="147.02" cy="324.03" r="3.05" fill="#000"/><circle cx="156.21" cy="324.03" r="3.05" fill="#000"/><circle cx="165.4" cy="324.03" r="3.05" fill="#000"/><circle cx="174.59" cy="324.03" r="3.05" fill="#000"/><circle cx="183.78" cy="324.03" r="3.05" fill="#000"/><circle cx="192.97" cy="323.32" r="3.05" fill="#000"/><circle cx="202.16" cy="323.32" r="3.05" fill="#000"/><path d="M51.5 245.45L54.1 250.45L48.9 250.45Z" fill="#fff" stroke="#000" stroke-width="1"/><path d="M63.9 248.17L66.5 253.17L61.3 253.17Z" fill="#fff" stroke="#000" stroke-width="1"/><path d="M73.5 262.84L76.1 267.84L70.9 267.84Z" fill="#fff" stroke="#000" stroke-width="1"/><path d="M82.69 271.24L85.29 276.24L80.09 276.24Z" fill="#fff" stroke="#000" stroke-width="1"/><path d="M91.88 278.22L94.48 283.22L89.28 283.22Z" fill="#fff" stroke="#000" stroke-width="1"/><path d="M101.07 284.02L103.67 289.02L98.47 289.02Z" fill="#fff" stroke="#000" stroke-width="1"/><path d="M110.26 289.93L112.86 294.93L107.66 294.93Z" fill="#fff" stroke="#000" stroke-width="1"/><path d="M119.45 295.14L122.05 300.14L116.85 300.14Z" fill="#fff" stroke="#000" stroke-width="1"/><path d="M128.64 301.52L131.24 306.52L126.04 306.52Z" fill="#fff" stroke="#000" stroke-width="1"/><path d="M137.83 306.14L140.43 311.14L135.23 311.14Z" fill="#fff" stroke="#000" stroke-width="1"/><path d="M147.02 309.1L149.62 314.1L144.42 314.1Z" fill="#fff" stroke="#000" stroke-width="1"/><path d="M156.21 311.82L158.81 316.82L153.61 316.82Z" fill="#fff" stroke="#000" stroke-width="1"/><path d="M165.4 313.12L168 318.12L162.8 318.12Z" fill="#fff" stroke="#000" stroke-width="1"/><path d="M174.59 313.71L177.19 318.71L171.99 318.71Z" fill="#fff" stroke="#000" stroke-width="1"/><path d="M183.78 314.18L186.38 319.18L181.18 319.18Z" fill="#fff" stroke="#000" stroke-width="1"/><path d="M192.97 313.12L195.57 318.12L190.37 318.12Z" fill="#fff" stroke="#000" stroke-width="1"/><path d="M202.16 313.12L204.76 318.12L199.56 318.12Z" fill="#fff" stroke="#000" stroke-width="1"/><path d="M51.5 244.9L54.6 250.9L48.4 250.9Z" fill="#000"/><path d="M63.9 246.08L67 252.08L60.8 252.08Z" fill="#000"/><path d="M73.5 249.63L76.6 255.63L70.4 255.63Z" fill="#000"/><path d="M82.69 251.52L85.79 257.52L79.59 257.52Z" fill="#000"/><path d="M91.88 252.23L94.98 258.23L88.78 258.23Z" fill="#000"/><path d="M101.07 254.6L104.17 260.6L97.97 260.6Z" fill="#000"/><path d="M110.26 258.03L113.36 264.03L107.16 264.03Z" fill="#000"/><path d="M119.45 262.05L122.55 268.05L116.35 268.05Z" fill="#000"/><path d="M128.64 265.84L131.74 271.84L125.54 271.84Z" fill="#000"/><path d="M137.83 269.74L140.93 275.74L134.73 275.74Z" fill="#000"/><path d="M147.02 274L150.12 280L143.92 280Z" fill="#000"/><path d="M156.21 276.84L159.31 282.84L153.11 282.84Z" fill="#000"/><path d="M165.4 281.22L168.5 287.22L162.3 287.22Z" fill="#000"/><path d="M174.59 283.7L177.69 289.7L171.49 289.7Z" fill="#000"/><path d="M183.78 286.54L186.88 292.54L180.68 292.54Z" fill="#000"/><path d="M192.97 288.08L196.07 294.08L189.87 294.08Z" fill="#000"/><path d="M202.16 290.09L205.26 296.09L199.06 296.09Z" fill="#000"/><rect x="49.3" y="246" width="4.4" height="4.4" fill="#fff" stroke="#000" stroke-width="1"/><rect x="61.7" y="248.72" width="4.4" height="4.4" fill="#fff" stroke="#000" stroke-width="1"/><rect x="71.3" y="249.55" width="4.4" height="4.4" fill="#fff" stroke="#000" stroke-width="1"/><rect x="80.49" y="250.73" width="4.4" height="4.4" fill="#fff" stroke="#000" stroke-width="1"/><rect x="89.68" y="250.73" width="4.4" height="4.4" fill="#fff" stroke="#000" stroke-width="1"/><rect x="98.87" y="250.73" width="4.4" height="4.4" fill="#fff" stroke="#000" stroke-width="1"/><rect x="108.06" y="252.27" width="4.4" height="4.4" fill="#fff" stroke="#000" stroke-width="1"/><rect x="117.25" y="253.69" width="4.4" height="4.4" fill="#fff" stroke="#000" stroke-width="1"/><rect x="126.44" y="255.7" width="4.4" height="4.4" fill="#fff" stroke="#000" stroke-width="1"/><rect x="135.63" y="257.24" width="4.4" height="4.4" fill="#fff" stroke="#000" stroke-width="1"/><rect x="144.82" y="259.25" width="4.4" height="4.4" fill="#fff" stroke="#000" stroke-width="1"/><rect x="154.01" y="260.79" width="4.4" height="4.4" fill="#fff" stroke="#000" stroke-width="1"/><rect x="163.2" y="262.68" width="4.4" height="4.4" fill="#fff" stroke="#000" stroke-width="1"/><rect x="172.39" y="263.39" width="4.4" height="4.4" fill="#fff" stroke="#000" stroke-width="1"/><rect x="181.58" y="265.4" width="4.4" height="4.4" fill="#fff" stroke="#000" stroke-width="1"/><rect x="190.77" y="265.99" width="4.4" height="4.4" fill="#fff" stroke="#000" stroke-width="1"/><rect x="199.96" y="266.35" width="4.4" height="4.4" fill="#fff" stroke="#000" stroke-width="1"/><rect x="48.8" y="245.5" width="5.4" height="5.4" fill="#000"/><rect x="61.2" y="244.55" width="5.4" height="5.4" fill="#000"/><rect x="70.8" y="245.97" width="5.4" height="5.4" fill="#000"/><rect x="79.99" y="245.85" width="5.4" height="5.4" fill="#000"/><rect x="89.18" y="245.5" width="5.4" height="5.4" fill="#000"/><rect x="98.37" y="245.5" width="5.4" height="5.4" fill="#000"/><rect x="107.56" y="245.03" width="5.4" height="5.4" fill="#000"/><rect x="116.75" y="244.91" width="5.4" height="5.4" fill="#000"/><rect x="125.94" y="244.32" width="5.4" height="5.4" fill="#000"/><rect x="135.13" y="243.84" width="5.4" height="5.4" fill="#000"/><rect x="144.32" y="242.54" width="5.4" height="5.4" fill="#000"/><rect x="153.51" y="241.71" width="5.4" height="5.4" fill="#000"/><rect x="162.7" y="241.71" width="5.4" height="5.4" fill="#000"/><rect x="171.89" y="241.24" width="5.4" height="5.4" fill="#000"/><rect x="181.08" y="240.53" width="5.4" height="5.4" fill="#000"/><rect x="190.27" y="237.1" width="5.4" height="5.4" fill="#000"/><rect x="199.46" y="235.56" width="5.4" height="5.4" fill="#000"/>
<path d="M259.5 224.54V369" stroke="#6a6a6a" stroke-width="1"/>
<path d="M257 366.5H413.8" stroke="#6a6a6a" stroke-width="1"/>
<path d="M257 342.84H259.5M257 319.18H259.5M257 295.52H259.5M257 271.86H259.5M257 248.2H259.5M289.72 366.5V369M319.94 366.5V369M350.16 366.5V369M380.38 366.5V369M410.6 366.5V369" stroke="#6a6a6a" stroke-width="1"/>
<text x="251.9" y="369.1" font-size="9.2" text-anchor="end" font-weight="normal" stroke="#111" stroke-width="0.3">0</text>
<text x="251.9" y="345.44" font-size="9.2" text-anchor="end" font-weight="normal" stroke="#111" stroke-width="0.3">20</text>
<text x="251.9" y="321.78" font-size="9.2" text-anchor="end" font-weight="normal" stroke="#111" stroke-width="0.3">40</text>
<text x="251.9" y="298.12" font-size="9.2" text-anchor="end" font-weight="normal" stroke="#111" stroke-width="0.3">60</text>
<text x="251.9" y="274.46" font-size="9.2" text-anchor="end" font-weight="normal" stroke="#111" stroke-width="0.3">80</text>
<text x="251.9" y="250.8" font-size="9.2" text-anchor="end" font-weight="normal" stroke="#111" stroke-width="0.3">100</text>
<text x="259.7" y="380.2" font-size="9.2" text-anchor="middle" font-weight="normal" stroke="#111" stroke-width="0.3">0</text>
<text x="289.92" y="380.2" font-size="9.2" text-anchor="middle" font-weight="normal" stroke="#111" stroke-width="0.3">100</text>
<text x="320.14" y="380.2" font-size="9.2" text-anchor="middle" font-weight="normal" stroke="#111" stroke-width="0.3">200</text>
<text x="350.36" y="380.2" font-size="9.2" text-anchor="middle" font-weight="normal" stroke="#111" stroke-width="0.3">300</text>
<text x="380.58" y="380.2" font-size="9.2" text-anchor="middle" font-weight="normal" stroke="#111" stroke-width="0.3">400</text>
<text x="410.8" y="380.2" font-size="9.2" text-anchor="middle" font-weight="normal" stroke="#111" stroke-width="0.3">500</text>
<text x="337" y="394.5" font-size="10" text-anchor="middle" font-weight="normal" stroke="#111" stroke-width="0.3">Time (min)</text>
<text x="0" y="0" font-size="11" text-anchor="middle" font-weight="normal" stroke="#111" stroke-width="0.3" transform="translate(232.7 306) rotate(-90)">OCR (%)</text>
<text x="348.5" y="218.5" font-size="12" text-anchor="middle" font-weight="normal" stroke="#111" stroke-width="0.3">POP-092S</text>
<path d="M271.9 244.96V250.96M269.7 244.96H274.1M269.7 250.96H274.1" stroke="#222" stroke-width="1" fill="none"/><path d="M281.5 268.7V280.7M279.3 268.7H283.7M279.3 280.7H283.7" stroke="#222" stroke-width="1" fill="none"/><path d="M290.69 279.67V292.67M288.49 279.67H292.89M288.49 292.67H292.89" stroke="#222" stroke-width="1" fill="none"/><path d="M299.88 282.96V296.96M297.68 282.96H302.08M297.68 296.96H302.08" stroke="#222" stroke-width="1" fill="none"/><path d="M309.07 294.23V307.23M306.87 294.23H311.27M306.87 307.23H311.27" stroke="#222" stroke-width="1" fill="none"/><path d="M318.26 304.31V316.31M316.06 304.31H320.46M316.06 316.31H320.46" stroke="#222" stroke-width="1" fill="none"/><path d="M327.45 311.41V323.41M325.25 311.41H329.65M325.25 323.41H329.65" stroke="#222" stroke-width="1" fill="none"/><path d="M336.64 317.7V328.7M334.44 317.7H338.84M334.44 328.7H338.84" stroke="#222" stroke-width="1" fill="none"/><path d="M345.83 322.7V332.7M343.63 322.7H348.03M343.63 332.7H348.03" stroke="#222" stroke-width="1" fill="none"/><path d="M355.02 326.72V336.72M352.82 326.72H357.22M352.82 336.72H357.22" stroke="#222" stroke-width="1" fill="none"/><path d="M364.21 330.3V339.3M362.01 330.3H366.41M362.01 339.3H366.41" stroke="#222" stroke-width="1" fill="none"/><path d="M373.4 332.9V341.9M371.2 332.9H375.6M371.2 341.9H375.6" stroke="#222" stroke-width="1" fill="none"/><path d="M382.59 334.91V343.91M380.39 334.91H384.79M380.39 343.91H384.79" stroke="#222" stroke-width="1" fill="none"/><path d="M391.78 337.16V346.16M389.58 337.16H393.98M389.58 346.16H393.98" stroke="#222" stroke-width="1" fill="none"/><path d="M400.97 339.31V347.31M398.77 339.31H403.17M398.77 347.31H403.17" stroke="#222" stroke-width="1" fill="none"/><path d="M410.16 341.09V349.09M407.96 341.09H412.36M407.96 349.09H412.36" stroke="#222" stroke-width="1" fill="none"/><path d="M271.9 246.38V252.38M269.7 246.38H274.1M269.7 252.38H274.1" stroke="#222" stroke-width="1" fill="none"/><path d="M281.5 260.93V266.93M279.3 260.93H283.7M279.3 266.93H283.7" stroke="#222" stroke-width="1" fill="none"/><path d="M290.69 259.4V265.4M288.49 259.4H292.89M288.49 265.4H292.89" stroke="#222" stroke-width="1" fill="none"/><path d="M299.88 260.34V266.34M297.68 260.34H302.08M297.68 266.34H302.08" stroke="#222" stroke-width="1" fill="none"/><path d="M309.07 262.71V268.71M306.87 262.71H311.27M306.87 268.71H311.27" stroke="#222" stroke-width="1" fill="none"/><path d="M318.26 265.78V271.78M316.06 265.78H320.46M316.06 271.78H320.46" stroke="#222" stroke-width="1" fill="none"/><path d="M327.45 267.68V273.68M325.25 267.68H329.65M325.25 273.68H329.65" stroke="#222" stroke-width="1" fill="none"/><path d="M336.64 271.23V277.23M334.44 271.23H338.84M334.44 277.23H338.84" stroke="#222" stroke-width="1" fill="none"/><path d="M345.83 273.12V279.12M343.63 273.12H348.03M343.63 279.12H348.03" stroke="#222" stroke-width="1" fill="none"/><path d="M355.02 276.19V282.19M352.82 276.19H357.22M352.82 282.19H357.22" stroke="#222" stroke-width="1" fill="none"/><path d="M364.21 278.44V284.44M362.01 278.44H366.41M362.01 284.44H366.41" stroke="#222" stroke-width="1" fill="none"/><path d="M373.4 280.81V286.81M371.2 280.81H375.6M371.2 286.81H375.6" stroke="#222" stroke-width="1" fill="none"/><path d="M382.59 283.17V289.17M380.39 283.17H384.79M380.39 289.17H384.79" stroke="#222" stroke-width="1" fill="none"/><path d="M391.78 285.42V291.42M389.58 285.42H393.98M389.58 291.42H393.98" stroke="#222" stroke-width="1" fill="none"/><path d="M400.97 287.31V293.31M398.77 287.31H403.17M398.77 293.31H403.17" stroke="#222" stroke-width="1" fill="none"/><path d="M410.16 290.04V296.04M407.96 290.04H412.36M407.96 296.04H412.36" stroke="#222" stroke-width="1" fill="none"/><path d="M271.9 243.79V253.79M269.7 243.79H274.1M269.7 253.79H274.1" stroke="#222" stroke-width="1" fill="none"/><path d="M281.5 251.01V261.01M279.3 251.01H283.7M279.3 261.01H283.7" stroke="#222" stroke-width="1" fill="none"/><path d="M290.69 250.06V260.06M288.49 250.06H292.89M288.49 260.06H292.89" stroke="#222" stroke-width="1" fill="none"/><path d="M299.88 250.53V260.53M297.68 250.53H302.08M297.68 260.53H302.08" stroke="#222" stroke-width="1" fill="none"/><path d="M309.07 250.06V260.06M306.87 250.06H311.27M306.87 260.06H311.27" stroke="#222" stroke-width="1" fill="none"/><path d="M318.26 252.19V262.19M316.06 252.19H320.46M316.06 262.19H320.46" stroke="#222" stroke-width="1" fill="none"/><path d="M327.45 252.19V262.19M325.25 252.19H329.65M325.25 262.19H329.65" stroke="#222" stroke-width="1" fill="none"/><path d="M336.64 252.9V262.9M334.44 252.9H338.84M334.44 262.9H338.84" stroke="#222" stroke-width="1" fill="none"/><path d="M345.83 252.9V262.9M343.63 252.9H348.03M343.63 262.9H348.03" stroke="#222" stroke-width="1" fill="none"/><path d="M355.02 254.08V264.08M352.82 254.08H357.22M352.82 264.08H357.22" stroke="#222" stroke-width="1" fill="none"/><path d="M364.21 254.91V264.91M362.01 254.91H366.41M362.01 264.91H366.41" stroke="#222" stroke-width="1" fill="none"/><path d="M373.4 255.98V265.98M371.2 255.98H375.6M371.2 265.98H375.6" stroke="#222" stroke-width="1" fill="none"/><path d="M382.59 255.98V265.98M380.39 255.98H384.79M380.39 265.98H384.79" stroke="#222" stroke-width="1" fill="none"/><path d="M391.78 257.99V267.99M389.58 257.99H393.98M389.58 267.99H393.98" stroke="#222" stroke-width="1" fill="none"/><path d="M400.97 257.99V267.99M398.77 257.99H403.17M398.77 267.99H403.17" stroke="#222" stroke-width="1" fill="none"/><path d="M410.16 258.93V268.93M407.96 258.93H412.36M407.96 268.93H412.36" stroke="#222" stroke-width="1" fill="none"/><path d="M271.9 250.59V258.59M269.7 250.59H274.1M269.7 258.59H274.1" stroke="#222" stroke-width="1" fill="none"/><path d="M281.5 256.86V264.86M279.3 256.86H283.7M279.3 264.86H283.7" stroke="#222" stroke-width="1" fill="none"/><path d="M290.69 256.5V264.5M288.49 256.5H292.89M288.49 264.5H292.89" stroke="#222" stroke-width="1" fill="none"/><path d="M299.88 257.33V265.33M297.68 257.33H302.08M297.68 265.33H302.08" stroke="#222" stroke-width="1" fill="none"/><path d="M309.07 256.5V264.5M306.87 256.5H311.27M306.87 264.5H311.27" stroke="#222" stroke-width="1" fill="none"/><path d="M318.26 257.69V265.69M316.06 257.69H320.46M316.06 265.69H320.46" stroke="#222" stroke-width="1" fill="none"/><path d="M327.45 257.33V265.33M325.25 257.33H329.65M325.25 265.33H329.65" stroke="#222" stroke-width="1" fill="none"/><path d="M336.64 258.51V266.51M334.44 258.51H338.84M334.44 266.51H338.84" stroke="#222" stroke-width="1" fill="none"/><path d="M345.83 258.04V266.04M343.63 258.04H348.03M343.63 266.04H348.03" stroke="#222" stroke-width="1" fill="none"/><path d="M355.02 259.34V267.34M352.82 259.34H357.22M352.82 267.34H357.22" stroke="#222" stroke-width="1" fill="none"/><path d="M364.21 260.05V268.05M362.01 260.05H366.41M362.01 268.05H366.41" stroke="#222" stroke-width="1" fill="none"/><path d="M373.4 260.53V268.53M371.2 260.53H375.6M371.2 268.53H375.6" stroke="#222" stroke-width="1" fill="none"/><path d="M382.59 259.7V267.7M380.39 259.7H384.79M380.39 267.7H384.79" stroke="#222" stroke-width="1" fill="none"/><path d="M391.78 261.12V269.12M389.58 261.12H393.98M389.58 269.12H393.98" stroke="#222" stroke-width="1" fill="none"/><path d="M400.97 262.06V270.06M398.77 262.06H403.17M398.77 270.06H403.17" stroke="#222" stroke-width="1" fill="none"/><path d="M410.16 262.06V270.06M407.96 262.06H412.36M407.96 270.06H412.36" stroke="#222" stroke-width="1" fill="none"/><path d="M271.9 231.11V239.51M269.7 231.11H274.1M269.7 239.51H274.1" stroke="#222" stroke-width="1" fill="none"/><path d="M281.5 230.26V248.86M279.3 230.26H283.7M279.3 248.86H283.7" stroke="#222" stroke-width="1" fill="none"/><path d="M290.69 230.27V250.27M288.49 230.27H292.89M288.49 250.27H292.89" stroke="#222" stroke-width="1" fill="none"/><path d="M299.88 231.08V252.08M297.68 231.08H302.08M297.68 252.08H302.08" stroke="#222" stroke-width="1" fill="none"/><path d="M309.07 230.58V252.58M306.87 230.58H311.27M306.87 252.58H311.27" stroke="#222" stroke-width="1" fill="none"/><path d="M318.26 230.67V253.67M316.06 230.67H320.46M316.06 253.67H320.46" stroke="#222" stroke-width="1" fill="none"/><path d="M327.45 230.17V254.17M325.25 230.17H329.65M325.25 254.17H329.65" stroke="#222" stroke-width="1" fill="none"/><path d="M336.64 230.17V254.17M334.44 230.17H338.84M334.44 254.17H338.84" stroke="#222" stroke-width="1" fill="none"/><path d="M345.83 229.67V254.67M343.63 229.67H348.03M343.63 254.67H348.03" stroke="#222" stroke-width="1" fill="none"/><path d="M355.02 231.32V256.32M352.82 231.32H357.22M352.82 256.32H357.22" stroke="#222" stroke-width="1" fill="none"/><path d="M364.21 230.82V256.82M362.01 230.82H366.41M362.01 256.82H366.41" stroke="#222" stroke-width="1" fill="none"/><path d="M373.4 230.82V256.82M371.2 230.82H375.6M371.2 256.82H375.6" stroke="#222" stroke-width="1" fill="none"/><path d="M382.59 230.27V256.67M380.39 230.27H384.79M380.39 256.67H384.79" stroke="#222" stroke-width="1" fill="none"/><path d="M391.78 231.15V258.15M389.58 231.15H393.98M389.58 258.15H393.98" stroke="#222" stroke-width="1" fill="none"/><path d="M400.97 231.15V258.15M398.77 231.15H403.17M398.77 258.15H403.17" stroke="#222" stroke-width="1" fill="none"/><path d="M410.16 231.44V259.04M407.96 231.44H412.36M407.96 259.04H412.36" stroke="#222" stroke-width="1" fill="none"/>
<path d="M259.5 248.2L271.9 247.96L281.5 274.7L290.69 286.17L299.88 289.96L309.07 300.73L318.26 310.31L327.45 317.41L336.64 323.2L345.83 327.7L355.02 331.72L364.21 334.8L373.4 337.4L382.59 339.41L391.78 341.66L400.97 343.31L410.16 345.09" stroke="#111" stroke-width="1.05" fill="none"/><path d="M259.5 248.2L271.9 249.38L281.5 263.93L290.69 262.4L299.88 263.34L309.07 265.71L318.26 268.78L327.45 270.68L336.64 274.23L345.83 276.12L355.02 279.19L364.21 281.44L373.4 283.81L382.59 286.17L391.78 288.42L400.97 290.31L410.16 293.04" stroke="#111" stroke-width="1.05" fill="none"/><path d="M259.5 248.2L271.9 248.79L281.5 256.01L290.69 255.06L299.88 255.53L309.07 255.06L318.26 257.19L327.45 257.19L336.64 257.9L345.83 257.9L355.02 259.08L364.21 259.91L373.4 260.98L382.59 260.98L391.78 262.99L400.97 262.99L410.16 263.93" stroke="#111" stroke-width="1.05" fill="none"/><path d="M259.5 248.2L271.9 254.59L281.5 260.86L290.69 260.5L299.88 261.33L309.07 260.5L318.26 261.69L327.45 261.33L336.64 262.51L345.83 262.04L355.02 263.34L364.21 264.05L373.4 264.53L382.59 263.7L391.78 265.12L400.97 266.06L410.16 266.06" stroke="#111" stroke-width="1.05" fill="none"/><path d="M259.5 248.2L271.9 235.31L281.5 239.56L290.69 240.27L299.88 241.58L309.07 241.58L318.26 242.17L327.45 242.17L336.64 242.17L345.83 242.17L355.02 243.82L364.21 243.82L373.4 243.82L382.59 243.47L391.78 244.65L400.97 244.65L410.16 245.24" stroke="#111" stroke-width="1.05" fill="none"/>
<circle cx="259.5" cy="248.2" r="3.05" fill="#000"/><circle cx="271.9" cy="247.96" r="3.05" fill="#000"/><circle cx="281.5" cy="274.7" r="3.05" fill="#000"/><circle cx="290.69" cy="286.17" r="3.05" fill="#000"/><circle cx="299.88" cy="289.96" r="3.05" fill="#000"/><circle cx="309.07" cy="300.73" r="3.05" fill="#000"/><circle cx="318.26" cy="310.31" r="3.05" fill="#000"/><circle cx="327.45" cy="317.41" r="3.05" fill="#000"/><circle cx="336.64" cy="323.2" r="3.05" fill="#000"/><circle cx="345.83" cy="327.7" r="3.05" fill="#000"/><circle cx="355.02" cy="331.72" r="3.05" fill="#000"/><circle cx="364.21" cy="334.8" r="3.05" fill="#000"/><circle cx="373.4" cy="337.4" r="3.05" fill="#000"/><circle cx="382.59" cy="339.41" r="3.05" fill="#000"/><circle cx="391.78" cy="341.66" r="3.05" fill="#000"/><circle cx="400.97" cy="343.31" r="3.05" fill="#000"/><circle cx="410.16" cy="345.09" r="3.05" fill="#000"/><path d="M259.5 245.45L262.1 250.45L256.9 250.45Z" fill="#fff" stroke="#000" stroke-width="1"/><path d="M271.9 246.63L274.5 251.63L269.3 251.63Z" fill="#fff" stroke="#000" stroke-width="1"/><path d="M281.5 261.18L284.1 266.18L278.9 266.18Z" fill="#fff" stroke="#000" stroke-width="1"/><path d="M290.69 259.65L293.29 264.65L288.09 264.65Z" fill="#fff" stroke="#000" stroke-width="1"/><path d="M299.88 260.59L302.48 265.59L297.28 265.59Z" fill="#fff" stroke="#000" stroke-width="1"/><path d="M309.07 262.96L311.67 267.96L306.47 267.96Z" fill="#fff" stroke="#000" stroke-width="1"/><path d="M318.26 266.03L320.86 271.03L315.66 271.03Z" fill="#fff" stroke="#000" stroke-width="1"/><path d="M327.45 267.93L330.05 272.93L324.85 272.93Z" fill="#fff" stroke="#000" stroke-width="1"/><path d="M336.64 271.48L339.24 276.48L334.04 276.48Z" fill="#fff" stroke="#000" stroke-width="1"/><path d="M345.83 273.37L348.43 278.37L343.23 278.37Z" fill="#fff" stroke="#000" stroke-width="1"/><path d="M355.02 276.44L357.62 281.44L352.42 281.44Z" fill="#fff" stroke="#000" stroke-width="1"/><path d="M364.21 278.69L366.81 283.69L361.61 283.69Z" fill="#fff" stroke="#000" stroke-width="1"/><path d="M373.4 281.06L376 286.06L370.8 286.06Z" fill="#fff" stroke="#000" stroke-width="1"/><path d="M382.59 283.42L385.19 288.42L379.99 288.42Z" fill="#fff" stroke="#000" stroke-width="1"/><path d="M391.78 285.67L394.38 290.67L389.18 290.67Z" fill="#fff" stroke="#000" stroke-width="1"/><path d="M400.97 287.56L403.57 292.56L398.37 292.56Z" fill="#fff" stroke="#000" stroke-width="1"/><path d="M410.16 290.29L412.76 295.29L407.56 295.29Z" fill="#fff" stroke="#000" stroke-width="1"/><path d="M259.5 244.9L262.6 250.9L256.4 250.9Z" fill="#000"/><path d="M271.9 245.49L275 251.49L268.8 251.49Z" fill="#000"/><path d="M281.5 252.71L284.6 258.71L278.4 258.71Z" fill="#000"/><path d="M290.69 251.76L293.79 257.76L287.59 257.76Z" fill="#000"/><path d="M299.88 252.23L302.98 258.23L296.78 258.23Z" fill="#000"/><path d="M309.07 251.76L312.17 257.76L305.97 257.76Z" fill="#000"/><path d="M318.26 253.89L321.36 259.89L315.16 259.89Z" fill="#000"/><path d="M327.45 253.89L330.55 259.89L324.35 259.89Z" fill="#000"/><path d="M336.64 254.6L339.74 260.6L333.54 260.6Z" fill="#000"/><path d="M345.83 254.6L348.93 260.6L342.73 260.6Z" fill="#000"/><path d="M355.02 255.78L358.12 261.78L351.92 261.78Z" fill="#000"/><path d="M364.21 256.61L367.31 262.61L361.11 262.61Z" fill="#000"/><path d="M373.4 257.68L376.5 263.68L370.3 263.68Z" fill="#000"/><path d="M382.59 257.68L385.69 263.68L379.49 263.68Z" fill="#000"/><path d="M391.78 259.69L394.88 265.69L388.68 265.69Z" fill="#000"/><path d="M400.97 259.69L404.07 265.69L397.87 265.69Z" fill="#000"/><path d="M410.16 260.63L413.26 266.63L407.06 266.63Z" fill="#000"/><rect x="257.3" y="246" width="4.4" height="4.4" fill="#fff" stroke="#000" stroke-width="1"/><rect x="269.7" y="252.39" width="4.4" height="4.4" fill="#fff" stroke="#000" stroke-width="1"/><rect x="279.3" y="258.66" width="4.4" height="4.4" fill="#fff" stroke="#000" stroke-width="1"/><rect x="288.49" y="258.3" width="4.4" height="4.4" fill="#fff" stroke="#000" stroke-width="1"/><rect x="297.68" y="259.13" width="4.4" height="4.4" fill="#fff" stroke="#000" stroke-width="1"/><rect x="306.87" y="258.3" width="4.4" height="4.4" fill="#fff" stroke="#000" stroke-width="1"/><rect x="316.06" y="259.49" width="4.4" height="4.4" fill="#fff" stroke="#000" stroke-width="1"/><rect x="325.25" y="259.13" width="4.4" height="4.4" fill="#fff" stroke="#000" stroke-width="1"/><rect x="334.44" y="260.31" width="4.4" height="4.4" fill="#fff" stroke="#000" stroke-width="1"/><rect x="343.63" y="259.84" width="4.4" height="4.4" fill="#fff" stroke="#000" stroke-width="1"/><rect x="352.82" y="261.14" width="4.4" height="4.4" fill="#fff" stroke="#000" stroke-width="1"/><rect x="362.01" y="261.85" width="4.4" height="4.4" fill="#fff" stroke="#000" stroke-width="1"/><rect x="371.2" y="262.33" width="4.4" height="4.4" fill="#fff" stroke="#000" stroke-width="1"/><rect x="380.39" y="261.5" width="4.4" height="4.4" fill="#fff" stroke="#000" stroke-width="1"/><rect x="389.58" y="262.92" width="4.4" height="4.4" fill="#fff" stroke="#000" stroke-width="1"/><rect x="398.77" y="263.86" width="4.4" height="4.4" fill="#fff" stroke="#000" stroke-width="1"/><rect x="407.96" y="263.86" width="4.4" height="4.4" fill="#fff" stroke="#000" stroke-width="1"/><rect x="256.8" y="245.5" width="5.4" height="5.4" fill="#000"/><rect x="269.2" y="232.61" width="5.4" height="5.4" fill="#000"/><rect x="278.8" y="236.86" width="5.4" height="5.4" fill="#000"/><rect x="287.99" y="237.57" width="5.4" height="5.4" fill="#000"/><rect x="297.18" y="238.88" width="5.4" height="5.4" fill="#000"/><rect x="306.37" y="238.88" width="5.4" height="5.4" fill="#000"/><rect x="315.56" y="239.47" width="5.4" height="5.4" fill="#000"/><rect x="324.75" y="239.47" width="5.4" height="5.4" fill="#000"/><rect x="333.94" y="239.47" width="5.4" height="5.4" fill="#000"/><rect x="343.13" y="239.47" width="5.4" height="5.4" fill="#000"/><rect x="352.32" y="241.12" width="5.4" height="5.4" fill="#000"/><rect x="361.51" y="241.12" width="5.4" height="5.4" fill="#000"/><rect x="370.7" y="241.12" width="5.4" height="5.4" fill="#000"/><rect x="379.89" y="240.77" width="5.4" height="5.4" fill="#000"/><rect x="389.08" y="241.95" width="5.4" height="5.4" fill="#000"/><rect x="398.27" y="241.95" width="5.4" height="5.4" fill="#000"/><rect x="407.46" y="242.54" width="5.4" height="5.4" fill="#000"/>
<path d="M424.6 75H444.2" stroke="#111" stroke-width="1"/>
<rect x="432.04" y="72.44" width="5.13" height="5.13" fill="#000"/>
<text x="446.3" y="78.7" font-size="10.9" text-anchor="start" font-weight="normal" stroke="#111" stroke-width="0.3">0.02 mmol/L</text>
<path d="M424.6 93.3H444.2" stroke="#111" stroke-width="1"/>
<rect x="432.51" y="91.21" width="4.18" height="4.18" fill="#fff" stroke="#000" stroke-width="1"/>
<text x="446.3" y="97" font-size="10.9" text-anchor="start" font-weight="normal" stroke="#111" stroke-width="0.3">0.2 mmol/L</text>
<path d="M424.6 111.6H444.2" stroke="#111" stroke-width="1"/>
<path d="M434.6 108.46L437.55 114.16L431.66 114.16Z" fill="#000"/>
<text x="446.3" y="115.3" font-size="10.9" text-anchor="start" font-weight="normal" stroke="#111" stroke-width="0.3">0.5 mmol/L</text>
<path d="M424.6 129.9H444.2" stroke="#111" stroke-width="1"/>
<path d="M434.6 127.29L437.07 132.04L432.13 132.04Z" fill="#fff" stroke="#000" stroke-width="1"/>
<text x="446.3" y="133.6" font-size="10.9" text-anchor="start" font-weight="normal" stroke="#111" stroke-width="0.3">2 mmol/L</text>
<path d="M424.6 148.2H444.2" stroke="#111" stroke-width="1"/>
<circle cx="434.6" cy="148.2" r="2.9" fill="#000"/>
<text x="446.3" y="151.9" font-size="10.9" text-anchor="start" font-weight="normal" stroke="#111" stroke-width="0.3">10 mmol/L</text>
<path d="M51.5 419V562" stroke="#6a6a6a" stroke-width="1"/>
<path d="M49 559.5H199.09" stroke="#6a6a6a" stroke-width="1"/>
<path d="M49 535.88H51.5M49 512.26H51.5M49 488.64H51.5M49 465.02H51.5M49 441.4H51.5M100.53 559.5V562M149.56 559.5V562M198.59 559.5V562" stroke="#6a6a6a" stroke-width="1"/>
<text x="43.9" y="562.1" font-size="9.2" text-anchor="end" font-weight="normal" stroke="#111" stroke-width="0.3">0</text>
<text x="43.9" y="538.48" font-size="9.2" text-anchor="end" font-weight="normal" stroke="#111" stroke-width="0.3">20</text>
<text x="43.9" y="514.86" font-size="9.2" text-anchor="end" font-weight="normal" stroke="#111" stroke-width="0.3">40</text>
<text x="43.9" y="491.24" font-size="9.2" text-anchor="end" font-weight="normal" stroke="#111" stroke-width="0.3">60</text>
<text x="43.9" y="467.62" font-size="9.2" text-anchor="end" font-weight="normal" stroke="#111" stroke-width="0.3">80</text>
<text x="43.9" y="444" font-size="9.2" text-anchor="end" font-weight="normal" stroke="#111" stroke-width="0.3">100</text>
<text x="51.7" y="573.5" font-size="9.2" text-anchor="middle" font-weight="normal" stroke="#111" stroke-width="0.3">0.01</text>
<text x="100.73" y="573.5" font-size="9.2" text-anchor="middle" font-weight="normal" stroke="#111" stroke-width="0.3">0.1</text>
<text x="149.76" y="573.5" font-size="9.2" text-anchor="middle" font-weight="normal" stroke="#111" stroke-width="0.3">1</text>
<text x="198.79" y="573.5" font-size="9.2" text-anchor="middle" font-weight="normal" stroke="#111" stroke-width="0.3">10</text>
<text x="121.6" y="589.2" font-size="10" text-anchor="middle" font-weight="normal" stroke="#111" stroke-width="0.3">Metformin (mmol/L)</text>
<text x="0" y="0" font-size="11" text-anchor="middle" font-weight="normal" stroke="#111" stroke-width="0.3" transform="translate(25.3 499.4) rotate(-90)">OCR (%)</text>
<path d="M66.26 422.5V448.5M64.06 422.5H68.46M64.06 448.5H68.46" stroke="#222" stroke-width="1" fill="none"/><path d="M115.29 452.1V458.1M113.09 452.1H117.49M113.09 458.1H117.49" stroke="#222" stroke-width="1" fill="none"/><path d="M134.8 444.99V455.99M132.6 444.99H137M132.6 455.99H137" stroke="#222" stroke-width="1" fill="none"/><path d="M164.32 458.24V464.24M162.12 458.24H166.52M162.12 464.24H166.52" stroke="#222" stroke-width="1" fill="none"/><path d="M198.59 497.85V510.85M196.39 497.85H200.79M196.39 510.85H200.79" stroke="#222" stroke-width="1" fill="none"/><path d="M66.26 438.19V443.19M64.06 438.19H68.46M64.06 443.19H68.46" stroke="#222" stroke-width="1" fill="none"/><path d="M115.29 442.89V448.89M113.09 442.89H117.49M113.09 448.89H117.49" stroke="#222" stroke-width="1" fill="none"/><path d="M164.32 477.82V484.82M162.12 477.82H166.52M162.12 484.82H166.52" stroke="#222" stroke-width="1" fill="none"/><path d="M198.59 504.45V513.45M196.39 504.45H200.79M196.39 513.45H200.79" stroke="#222" stroke-width="1" fill="none"/><path d="M66.26 438.58V446.58M64.06 438.58H68.46M64.06 446.58H68.46" stroke="#222" stroke-width="1" fill="none"/><path d="M66.26 451.29V465.29M64.06 451.29H68.46M64.06 465.29H68.46" stroke="#222" stroke-width="1" fill="none"/>
<path d="M66.26 435.5L115.29 455.1L134.8 450.49L164.32 461.24L198.59 504.35" stroke="#111" stroke-width="1.05" fill="none"/><path d="M66.26 440.69L115.29 445.89L134.8 454.51L164.32 481.32L198.59 508.95" stroke="#111" stroke-width="1.05" fill="none"/><path d="M66.26 442.58L115.29 448.96L134.8 454.86L164.32 486.28L198.59 514.15" stroke="#111" stroke-width="1.05" fill="none"/><path d="M66.26 458.29L115.29 470.1L134.8 491.36L164.32 522.77L198.59 539.66" stroke="#111" stroke-width="1.05" fill="none"/>
<path d="M66.26 432.75L68.86 437.75L63.66 437.75Z" fill="#fff" stroke="#000" stroke-width="1"/><path d="M115.29 452.35L117.89 457.35L112.69 457.35Z" fill="#fff" stroke="#000" stroke-width="1"/><path d="M134.8 447.74L137.4 452.74L132.2 452.74Z" fill="#fff" stroke="#000" stroke-width="1"/><path d="M164.32 458.49L166.92 463.49L161.72 463.49Z" fill="#fff" stroke="#000" stroke-width="1"/><path d="M198.59 501.6L201.19 506.6L195.99 506.6Z" fill="#fff" stroke="#000" stroke-width="1"/><rect x="64.06" y="438.49" width="4.4" height="4.4" fill="#fff" stroke="#000" stroke-width="1"/><rect x="113.09" y="443.69" width="4.4" height="4.4" fill="#fff" stroke="#000" stroke-width="1"/><rect x="132.6" y="452.31" width="4.4" height="4.4" fill="#fff" stroke="#000" stroke-width="1"/><rect x="162.12" y="479.12" width="4.4" height="4.4" fill="#fff" stroke="#000" stroke-width="1"/><rect x="196.39" y="506.75" width="4.4" height="4.4" fill="#fff" stroke="#000" stroke-width="1"/><path d="M66.26 439.28L69.36 445.28L63.16 445.28Z" fill="#000"/><path d="M115.29 445.66L118.39 451.66L112.19 451.66Z" fill="#000"/><path d="M134.8 451.56L137.9 457.56L131.7 457.56Z" fill="#000"/><path d="M164.32 482.98L167.42 488.98L161.22 488.98Z" fill="#000"/><path d="M198.59 510.85L201.69 516.85L195.49 516.85Z" fill="#000"/><rect x="63.56" y="455.59" width="5.4" height="5.4" fill="#000"/><rect x="112.59" y="467.4" width="5.4" height="5.4" fill="#000"/><rect x="132.1" y="488.66" width="5.4" height="5.4" fill="#000"/><rect x="161.62" y="520.07" width="5.4" height="5.4" fill="#000"/><rect x="195.89" y="536.96" width="5.4" height="5.4" fill="#000"/>
<path d="M193.8 426.2H212.9" stroke="#111" stroke-width="1"/>
<rect x="200.84" y="423.63" width="5.13" height="5.13" fill="#000"/>
<text x="215.6" y="429.9" font-size="10.9" text-anchor="start" font-weight="normal" stroke="#111" stroke-width="0.3">LNCap</text>
<path d="M193.8 444.3H212.9" stroke="#111" stroke-width="1"/>
<rect x="201.31" y="442.21" width="4.18" height="4.18" fill="#fff" stroke="#000" stroke-width="1"/>
<text x="215.6" y="448" font-size="10.9" text-anchor="start" font-weight="normal" stroke="#111" stroke-width="0.3">SCC-74B</text>
<path d="M193.8 462.4H212.9" stroke="#111" stroke-width="1"/>
<path d="M203.4 459.26L206.34 464.96L200.46 464.96Z" fill="#000"/>
<text x="215.6" y="466.1" font-size="10.9" text-anchor="start" font-weight="normal" stroke="#111" stroke-width="0.3">HCT116</text>
<path d="M193.8 480.5H212.9" stroke="#111" stroke-width="1"/>
<path d="M203.4 477.89L205.87 482.64L200.93 482.64Z" fill="#fff" stroke="#000" stroke-width="1"/>
<text x="215.6" y="484.2" font-size="10.9" text-anchor="start" font-weight="normal" stroke="#111" stroke-width="0.3">POP-092S</text>
<path d="M341.5 426.2V564" stroke="#6a6a6a" stroke-width="1"/>
<path d="M339 561.5H397.2" stroke="#6a6a6a" stroke-width="1"/>
<path d="M339 537.9H341.5M339 514.3H341.5M339 490.7H341.5M339 467.1H341.5M339 443.5H341.5M369.5 561.5V564M396.5 561.5V564" stroke="#6a6a6a" stroke-width="1"/>
<text x="333.9" y="564.5" font-size="9.2" text-anchor="end" font-weight="normal" stroke="#111" stroke-width="0.3">50</text>
<text x="333.9" y="540.9" font-size="9.2" text-anchor="end" font-weight="normal" stroke="#111" stroke-width="0.3">60</text>
<text x="333.9" y="517.3" font-size="9.2" text-anchor="end" font-weight="normal" stroke="#111" stroke-width="0.3">70</text>
<text x="333.9" y="493.7" font-size="9.2" text-anchor="end" font-weight="normal" stroke="#111" stroke-width="0.3">80</text>
<text x="333.9" y="470.1" font-size="9.2" text-anchor="end" font-weight="normal" stroke="#111" stroke-width="0.3">90</text>
<text x="333.9" y="446.5" font-size="9.2" text-anchor="end" font-weight="normal" stroke="#111" stroke-width="0.3">100</text>
<text x="0" y="0" font-size="11" text-anchor="middle" font-weight="normal" stroke="#111" stroke-width="0.3" transform="translate(316.4 501) rotate(-90)">OCR (%)</text>
<rect x="346.3" y="443.5" width="18.5" height="118" fill="#000"/>
<rect x="373.5" y="460.5" width="18.6" height="101" fill="#fff" stroke="#333" stroke-width="1"/>
<path d="M382.9 455.45V465.75M380.4 455.45H385.4M380.4 465.75H385.4" stroke="#222" stroke-width="1" fill="none"/>
<text x="371.2" y="427.9" font-size="10" stroke="#111" stroke-width="0.3" text-anchor="middle"><tspan font-style="italic">P</tspan> = 0.005</text>
<path d="M357.2 430.2H386.3" stroke="#111" stroke-width="1"/>
<text x="0" y="0" font-size="10.2" text-anchor="end" font-weight="normal" stroke="#111" stroke-width="0.3" transform="translate(358.8 574.2) rotate(-45)">Control</text>
<text x="0" y="0" font-size="10.2" text-anchor="end" font-weight="normal" stroke="#111" stroke-width="0.3" transform="translate(385.8 574.2) rotate(-45)">Metformin</text>
<text x="12.6" y="30" font-size="17" text-anchor="start" font-weight="bold" stroke="#000" stroke-width="0.35" fill="#000">A</text>
<text x="12.2" y="419.3" font-size="16.3" text-anchor="start" font-weight="bold" stroke="#000" stroke-width="0.35" fill="#000">B</text>
<text x="282.8" y="419.2" font-size="17" text-anchor="start" font-weight="bold" stroke="#000" stroke-width="0.35" fill="#000">C</text></g>
<rect x="0" y="0" width="520" height="1" fill="#555"/><rect x="0" y="1" width="520" height="1" fill="#c8c8c8"/><rect x="0" y="0" width="1" height="624" fill="#555"/><rect x="1" y="1" width="1" height="622" fill="#aaa"/><rect x="519" y="0" width="1" height="624" fill="#555"/><rect x="518" y="1" width="1" height="622" fill="#999"/><rect x="0" y="623" width="520" height="1" fill="#777"/><rect x="1" y="622" width="518" height="1" fill="#9a9a9a"/>
</svg>
</body></html>
